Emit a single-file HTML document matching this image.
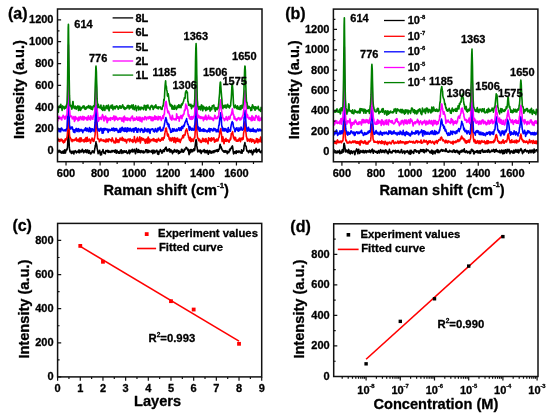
<!DOCTYPE html>
<html><head><meta charset="utf-8"><title>Figure</title>
<style>html,body{margin:0;padding:0;background:#fff;}svg{display:block;}text{stroke:#000;stroke-width:0.3px;stroke-linejoin:round;}</style></head>
<body><svg width="550" height="417" viewBox="0 0 550 417">
<rect width="550" height="417" fill="#fff"/>
<g style="font-family:'Liberation Sans',Arial,sans-serif;font-weight:bold" fill="#000">
<clipPath id="c57"><rect x="57.5" y="9" width="204.5" height="152.7"/></clipPath>
<g clip-path="url(#c57)">
<polyline points="57.5,152.7 57.8,152.7 58.0,152.3 58.3,151.5 58.5,151.5 58.8,151.1 59.0,150.3 59.3,150.2 59.5,150.8 59.8,151.9 60.1,152.5 60.3,152.5 60.6,152.0 60.8,151.9 61.1,152.7 61.3,152.7 61.6,152.1 61.8,153.1 62.1,152.0 62.4,151.4 62.6,152.5 62.9,153.0 63.1,152.2 63.4,151.0 63.6,151.9 63.9,153.3 64.1,152.0 64.4,150.2 64.7,149.9 64.9,150.5 65.2,151.9 65.4,153.0 65.7,151.7 65.9,151.2 66.2,150.6 66.4,149.4 66.7,150.1 67.0,149.9 67.2,148.8 67.5,147.3 67.7,143.7 68.0,137.5 68.2,130.9 68.4,130.2 68.5,130.6 68.7,133.8 69.0,140.7 69.3,146.9 69.5,148.7 69.8,150.5 70.0,151.9 70.3,151.0 70.5,151.3 70.8,151.4 71.0,151.4 71.3,153.5 71.6,153.3 71.8,152.0 72.1,151.4 72.3,152.2 72.6,152.8 72.8,152.7 73.1,151.6 73.3,151.2 73.6,153.2 73.9,153.9 74.1,152.4 74.4,152.1 74.6,152.2 74.9,150.9 75.1,150.6 75.4,151.8 75.6,151.7 75.9,151.1 76.2,152.1 76.4,152.9 76.7,152.2 76.9,152.2 77.2,151.6 77.4,151.9 77.7,151.6 78.0,151.0 78.2,151.6 78.5,152.4 78.7,152.0 79.0,149.8 79.2,150.3 79.5,152.8 79.7,152.7 80.0,151.4 80.3,151.8 80.5,151.3 80.8,150.6 81.0,151.1 81.3,151.7 81.5,151.9 81.8,151.5 82.0,150.5 82.3,149.3 82.6,149.9 82.8,151.0 83.1,150.6 83.3,151.5 83.6,152.8 83.8,151.7 84.1,150.7 84.3,151.4 84.6,150.8 84.9,151.4 85.1,151.9 85.4,151.9 85.6,149.7 85.9,150.0 86.1,150.5 86.4,152.0 86.6,152.6 86.9,151.0 87.2,151.2 87.4,150.1 87.7,150.5 87.9,150.2 88.2,152.2 88.4,153.1 88.7,151.3 88.9,151.3 89.2,151.1 89.5,150.7 89.7,152.3 90.0,153.3 90.2,153.5 90.5,153.9 90.7,154.0 91.0,153.5 91.2,152.9 91.5,152.5 91.8,152.7 92.0,151.7 92.3,150.8 92.5,151.2 92.8,151.3 93.0,152.0 93.3,151.2 93.5,151.0 93.8,152.2 94.1,152.9 94.3,151.6 94.6,150.1 94.8,148.3 95.1,147.5 95.3,145.4 95.6,145.7 95.8,143.4 96.0,141.8 96.1,142.7 96.4,143.9 96.6,145.1 96.9,146.0 97.1,148.5 97.4,149.3 97.6,150.6 97.9,152.0 98.1,153.6 98.4,152.0 98.7,151.3 98.9,152.7 99.2,152.8 99.4,152.0 99.7,150.2 99.9,152.2 100.2,153.5 100.4,155.0 100.7,154.0 101.0,152.4 101.2,153.7 101.5,154.8 101.7,152.8 102.0,151.7 102.2,151.3 102.5,151.5 102.7,151.3 103.0,149.5 103.3,151.3 103.5,151.9 103.8,153.0 104.0,153.2 104.3,153.3 104.5,152.2 104.8,152.4 105.0,153.5 105.3,153.8 105.6,151.6 105.8,150.6 106.1,150.8 106.3,151.4 106.6,150.9 106.8,150.5 107.1,150.5 107.3,150.3 107.6,151.4 107.9,152.1 108.1,152.4 108.4,150.5 108.6,151.7 108.9,151.4 109.1,151.3 109.4,152.3 109.6,151.8 109.9,151.1 110.2,151.6 110.4,152.1 110.7,152.3 110.9,152.5 111.2,151.9 111.4,151.2 111.7,150.8 111.9,150.5 112.2,151.4 112.5,151.8 112.7,150.9 113.0,150.7 113.2,150.5 113.5,151.0 113.7,150.9 114.0,150.8 114.2,151.1 114.5,152.3 114.8,151.9 115.0,150.9 115.3,149.9 115.5,151.0 115.8,151.2 116.0,152.3 116.3,153.2 116.6,150.9 116.8,150.2 117.1,150.6 117.3,152.4 117.6,151.7 117.8,151.8 118.1,152.9 118.3,151.8 118.6,151.9 118.9,151.8 119.1,153.3 119.4,153.2 119.6,153.0 119.9,153.2 120.1,151.6 120.4,150.3 120.6,151.0 120.9,150.5 121.2,149.8 121.4,150.7 121.7,152.4 121.9,153.4 122.2,152.0 122.4,151.9 122.7,151.9 122.9,150.9 123.2,151.3 123.5,152.8 123.7,151.9 124.0,151.5 124.2,150.9 124.5,151.0 124.7,150.9 125.0,152.0 125.2,152.3 125.5,152.3 125.8,152.0 126.0,151.5 126.3,150.8 126.5,152.1 126.8,152.2 127.0,153.1 127.3,153.5 127.5,153.1 127.8,153.1 128.1,152.1 128.3,152.4 128.6,152.2 128.8,150.8 129.1,150.1 129.3,152.2 129.6,153.7 129.8,152.6 130.1,151.3 130.4,150.5 130.6,151.5 130.9,152.1 131.1,150.6 131.4,150.3 131.6,151.3 131.9,151.2 132.1,150.3 132.4,149.2 132.7,151.4 132.9,152.1 133.2,151.5 133.4,151.0 133.7,151.4 133.9,150.8 134.2,149.9 134.4,149.4 134.7,151.1 135.0,152.0 135.2,152.5 135.5,153.7 135.7,153.1 136.0,151.7 136.2,150.5 136.5,148.6 136.7,149.3 137.0,149.9 137.3,150.1 137.5,151.8 137.8,152.5 138.0,152.4 138.3,151.2 138.5,149.6 138.8,151.3 139.0,152.2 139.3,151.4 139.6,150.5 139.8,150.5 140.1,150.9 140.3,152.6 140.6,152.7 140.8,151.9 141.1,151.0 141.3,150.6 141.6,152.0 141.9,151.3 142.1,151.3 142.4,151.2 142.6,152.3 142.9,152.6 143.1,150.7 143.4,151.4 143.6,153.0 143.9,151.7 144.2,152.2 144.4,151.9 144.7,151.9 144.9,152.4 145.2,151.0 145.4,151.1 145.7,149.9 145.9,150.3 146.2,150.7 146.5,150.4 146.7,149.8 147.0,152.1 147.2,152.7 147.5,152.0 147.7,150.3 148.0,150.1 148.2,151.0 148.5,151.7 148.8,152.5 149.0,150.6 149.3,151.2 149.5,151.5 149.8,151.5 150.0,151.0 150.3,151.4 150.5,151.4 150.8,151.5 151.1,152.1 151.3,152.1 151.6,151.1 151.8,150.7 152.1,150.2 152.3,150.2 152.6,152.7 152.8,153.7 153.1,152.0 153.4,150.4 153.6,151.7 153.9,152.7 154.1,150.4 154.4,150.9 154.6,153.0 154.9,152.7 155.2,151.8 155.4,152.0 155.7,151.6 155.9,151.0 156.2,150.8 156.4,150.2 156.7,150.7 156.9,150.3 157.2,151.9 157.5,153.4 157.7,154.1 158.0,152.9 158.2,151.3 158.5,151.6 158.7,154.4 159.0,152.9 159.2,152.1 159.5,151.2 159.8,151.6 160.0,150.7 160.3,149.6 160.5,150.8 160.8,151.2 161.0,150.4 161.3,150.9 161.5,152.0 161.8,153.1 162.1,152.8 162.3,153.0 162.6,151.5 162.8,150.7 163.1,150.5 163.3,149.8 163.6,151.5 163.8,151.0 164.1,151.0 164.4,151.5 164.6,149.9 164.9,148.6 165.1,148.4 165.4,149.0 165.6,148.9 165.7,149.2 165.9,147.5 166.1,147.2 166.4,148.8 166.7,149.9 166.9,151.0 167.2,150.6 167.4,150.6 167.7,150.8 167.9,151.1 168.2,149.2 168.4,149.5 168.7,149.4 169.0,150.0 169.2,150.4 169.5,148.9 169.7,149.9 170.0,152.2 170.2,151.8 170.5,151.8 170.7,151.5 171.0,149.9 171.3,151.4 171.5,150.9 171.8,152.1 172.0,150.8 172.3,152.2 172.5,153.6 172.8,151.7 173.0,151.1 173.3,151.8 173.6,151.2 173.8,152.3 174.1,150.7 174.3,149.9 174.6,149.6 174.8,150.9 175.1,150.9 175.3,151.4 175.6,150.7 175.9,150.6 176.1,150.9 176.4,152.2 176.6,151.2 176.9,150.4 177.1,149.9 177.4,151.3 177.6,151.4 177.9,150.6 178.2,151.4 178.4,153.7 178.7,152.1 178.9,150.7 179.2,152.0 179.4,153.3 179.7,152.3 179.9,151.8 180.2,152.2 180.5,151.9 180.7,152.3 181.0,151.7 181.2,150.6 181.5,149.2 181.7,149.6 182.0,149.4 182.2,150.4 182.5,152.0 182.8,151.7 183.0,150.6 183.3,152.2 183.5,152.2 183.8,150.3 184.0,151.2 184.3,151.0 184.5,149.1 184.8,149.9 185.1,149.2 185.3,149.1 185.6,148.9 185.8,148.5 186.1,147.3 186.3,148.4 186.6,148.7 186.8,147.8 187.1,148.9 187.4,149.3 187.6,149.2 187.9,150.5 188.1,150.7 188.4,149.4 188.6,151.3 188.9,154.0 189.1,154.6 189.4,151.8 189.7,150.6 189.9,150.0 190.2,152.2 190.4,152.8 190.7,151.2 190.9,149.6 191.2,149.5 191.5,151.0 191.7,151.8 192.0,150.9 192.2,149.8 192.5,151.0 192.7,151.6 193.0,150.9 193.2,150.8 193.5,150.3 193.8,148.9 194.0,149.6 194.3,150.5 194.5,150.6 194.8,149.5 195.0,147.1 195.3,144.8 195.5,143.2 195.8,141.1 196.1,139.6 196.3,141.0 196.6,142.3 196.8,145.9 197.1,147.5 197.3,148.6 197.6,151.1 197.8,151.9 198.1,151.2 198.4,150.6 198.6,150.8 198.9,150.7 199.1,150.2 199.4,151.6 199.6,151.9 199.9,150.9 200.1,150.7 200.4,150.0 200.7,150.3 200.9,152.7 201.2,153.5 201.4,151.5 201.7,151.1 201.9,151.4 202.2,151.9 202.4,151.0 202.7,151.2 203.0,150.6 203.2,150.3 203.5,151.0 203.7,151.6 204.0,151.2 204.2,149.5 204.5,151.6 204.7,151.6 205.0,152.8 205.3,152.2 205.5,150.5 205.8,151.3 206.0,150.7 206.3,151.1 206.5,151.1 206.8,152.8 207.0,152.5 207.3,150.3 207.6,151.0 207.8,152.4 208.1,153.1 208.3,154.3 208.6,153.0 208.8,153.1 209.1,152.3 209.3,150.5 209.6,151.7 209.9,152.5 210.1,152.5 210.4,151.0 210.6,151.0 210.9,152.6 211.1,153.3 211.4,152.1 211.6,152.0 211.9,152.9 212.2,151.3 212.4,151.9 212.7,151.9 212.9,152.4 213.2,152.1 213.4,150.8 213.7,151.5 213.9,152.7 214.2,151.3 214.5,150.6 214.7,151.0 215.0,150.8 215.2,151.7 215.5,150.7 215.7,150.9 216.0,150.8 216.2,149.8 216.5,150.4 216.8,151.3 217.0,151.2 217.3,151.7 217.5,150.6 217.8,149.5 218.0,149.8 218.3,151.3 218.5,150.9 218.8,149.5 219.1,149.1 219.3,149.3 219.6,147.7 219.8,145.9 220.1,144.3 220.3,144.8 220.4,145.5 220.6,147.1 220.8,147.6 221.1,146.7 221.4,147.9 221.6,149.2 221.9,148.9 222.1,149.7 222.4,150.5 222.6,150.5 222.9,151.1 223.1,150.6 223.4,150.9 223.7,151.7 223.9,152.1 224.2,151.9 224.4,150.8 224.7,151.5 224.9,152.2 225.2,150.9 225.4,150.7 225.7,151.2 226.0,151.3 226.2,151.9 226.5,151.8 226.7,151.1 227.0,152.7 227.2,153.6 227.5,152.9 227.7,151.4 228.0,152.2 228.3,152.2 228.5,152.5 228.8,152.6 229.0,151.9 229.3,150.9 229.5,149.6 229.8,150.9 230.1,150.4 230.3,148.6 230.6,148.5 230.8,148.9 231.1,148.5 231.3,148.2 231.6,147.0 231.8,146.8 232.1,146.7 232.2,146.2 232.4,145.9 232.6,146.9 232.9,148.8 233.1,150.8 233.4,152.9 233.6,153.9 233.9,151.8 234.1,152.7 234.4,152.2 234.7,151.9 234.9,152.9 235.2,152.2 235.4,151.3 235.7,151.3 235.9,151.8 236.2,153.5 236.4,151.4 236.7,150.8 237.0,152.2 237.2,151.2 237.5,151.6 237.7,151.6 238.0,151.4 238.2,152.4 238.5,151.3 238.7,151.6 239.0,150.9 239.3,151.2 239.5,151.4 239.8,152.1 240.0,152.1 240.3,152.7 240.5,152.8 240.8,152.9 241.0,152.2 241.3,151.6 241.6,149.7 241.8,152.1 242.1,153.3 242.3,151.0 242.6,151.0 242.8,150.6 243.1,150.7 243.3,151.1 243.6,150.6 243.9,149.0 244.1,145.7 244.4,144.7 244.6,144.7 244.9,142.6 245.0,143.1 245.1,145.0 245.4,145.6 245.6,145.7 245.9,146.3 246.2,146.7 246.4,148.8 246.7,149.7 246.9,151.0 247.2,151.3 247.4,151.3 247.7,151.3 247.9,151.1 248.2,151.7 248.5,152.7 248.7,151.6 249.0,152.0 249.2,150.8 249.5,150.4 249.7,150.8 250.0,151.7 250.2,151.2 250.5,150.9 250.8,152.2 251.0,152.5 251.3,150.4 251.5,151.3 251.8,152.3 252.0,153.0 252.3,153.8 252.5,154.8 252.8,153.7 253.1,153.1 253.3,152.0 253.6,150.0 253.8,151.1 254.1,151.9 254.3,151.8 254.6,151.8 254.8,150.1 255.1,150.1 255.4,151.5 255.6,150.5 255.9,149.6 256.1,148.3 256.4,149.9 256.6,152.5 256.9,152.0 257.1,150.6 257.4,150.2 257.7,150.1 257.9,151.1 258.2,150.8 258.4,149.8 258.7,150.4 258.9,150.5 259.2,149.2 259.4,150.7 259.7,151.6 260.0,152.1 260.2,152.0 260.5,152.5 260.7,151.2 261.0,152.7 261.2,151.6 261.5,151.8 261.7,150.9 262.0,149.9" fill="none" stroke="#000000" stroke-width="1.6" stroke-linejoin="round"/>
<polyline points="57.5,139.7 57.8,138.3 58.0,138.6 58.3,140.5 58.5,141.0 58.8,140.8 59.0,139.8 59.3,139.8 59.5,140.1 59.8,141.5 60.1,139.2 60.3,139.5 60.6,139.6 60.8,140.3 61.1,140.6 61.3,139.5 61.6,139.2 61.8,140.2 62.1,140.2 62.4,139.8 62.6,141.5 62.9,142.1 63.1,140.6 63.4,141.5 63.6,142.9 63.9,142.0 64.1,141.4 64.4,142.2 64.7,142.2 64.9,140.2 65.2,139.0 65.4,140.1 65.7,140.6 65.9,139.3 66.2,138.7 66.4,139.2 66.7,138.1 67.0,136.9 67.2,136.3 67.5,132.3 67.7,122.4 68.0,109.7 68.2,99.0 68.4,97.5 68.5,99.5 68.7,108.3 69.0,121.0 69.3,129.2 69.5,134.6 69.8,137.8 70.0,137.2 70.3,137.6 70.5,138.3 70.8,138.6 71.0,139.1 71.3,140.8 71.6,139.5 71.8,139.7 72.1,141.7 72.3,140.4 72.6,140.0 72.8,139.5 73.1,140.4 73.3,140.2 73.6,140.1 73.9,140.8 74.1,139.9 74.4,139.9 74.6,139.9 74.9,140.2 75.1,139.0 75.4,139.2 75.6,140.0 75.9,139.1 76.2,137.9 76.4,138.3 76.7,141.0 76.9,139.7 77.2,139.4 77.4,140.6 77.7,141.0 78.0,139.7 78.2,141.0 78.5,139.6 78.7,139.2 79.0,141.7 79.2,141.7 79.5,141.8 79.7,139.9 80.0,137.7 80.3,138.1 80.5,141.8 80.8,141.3 81.0,139.1 81.3,138.1 81.5,139.5 81.8,140.9 82.0,140.2 82.3,140.3 82.6,140.8 82.8,141.0 83.1,140.0 83.3,139.8 83.6,140.4 83.8,141.1 84.1,142.0 84.3,140.9 84.6,139.2 84.9,140.6 85.1,141.5 85.4,139.1 85.6,138.4 85.9,137.7 86.1,139.6 86.4,141.3 86.6,141.6 86.9,138.3 87.2,137.2 87.4,140.5 87.7,141.1 87.9,140.1 88.2,141.1 88.4,141.0 88.7,140.7 88.9,139.7 89.2,138.9 89.5,139.4 89.7,139.3 90.0,140.2 90.2,140.8 90.5,143.1 90.7,142.4 91.0,140.1 91.2,140.3 91.5,139.5 91.8,138.8 92.0,138.1 92.3,138.3 92.5,138.6 92.8,140.0 93.0,141.1 93.3,141.2 93.5,141.1 93.8,141.4 94.1,140.5 94.3,139.1 94.6,137.6 94.8,136.7 95.1,134.7 95.3,128.5 95.6,122.3 95.8,117.8 96.0,118.3 96.1,119.5 96.4,121.8 96.6,123.9 96.9,128.6 97.1,131.5 97.4,134.4 97.6,138.5 97.9,139.0 98.1,138.7 98.4,138.8 98.7,139.0 98.9,139.5 99.2,140.3 99.4,141.8 99.7,141.1 99.9,141.0 100.2,140.5 100.4,140.4 100.7,139.3 101.0,138.9 101.2,139.4 101.5,139.7 101.7,140.2 102.0,140.8 102.2,140.8 102.5,140.7 102.7,140.0 103.0,139.9 103.3,140.1 103.5,141.2 103.8,140.0 104.0,141.1 104.3,141.5 104.5,141.0 104.8,140.9 105.0,140.4 105.3,141.2 105.6,142.0 105.8,141.2 106.1,139.1 106.3,140.2 106.6,141.6 106.8,141.3 107.1,141.4 107.3,139.4 107.6,141.2 107.9,140.1 108.1,140.0 108.4,141.6 108.6,140.1 108.9,138.9 109.1,139.3 109.4,139.5 109.6,139.1 109.9,139.6 110.2,139.9 110.4,140.1 110.7,140.0 110.9,140.8 111.2,139.9 111.4,141.0 111.7,141.6 111.9,139.7 112.2,137.9 112.5,138.8 112.7,140.3 113.0,139.9 113.2,140.6 113.5,140.6 113.7,141.1 114.0,142.8 114.2,141.4 114.5,141.7 114.8,142.1 115.0,142.8 115.3,143.0 115.5,141.6 115.8,139.1 116.0,138.1 116.3,139.3 116.6,139.2 116.8,140.9 117.1,142.5 117.3,140.7 117.6,139.9 117.8,140.5 118.1,139.9 118.3,139.9 118.6,141.6 118.9,142.4 119.1,141.2 119.4,140.8 119.6,140.4 119.9,138.7 120.1,138.1 120.4,139.9 120.6,139.3 120.9,138.7 121.2,138.7 121.4,139.0 121.7,140.1 121.9,138.8 122.2,137.4 122.4,138.9 122.7,140.5 122.9,139.4 123.2,138.5 123.5,139.6 123.7,140.2 124.0,139.2 124.2,141.0 124.5,140.2 124.7,140.6 125.0,141.2 125.2,139.2 125.5,139.9 125.8,141.3 126.0,140.2 126.3,141.3 126.5,142.9 126.8,141.7 127.0,140.0 127.3,139.4 127.5,139.9 127.8,140.0 128.1,139.8 128.3,139.9 128.6,139.0 128.8,139.6 129.1,139.7 129.3,140.0 129.6,141.6 129.8,140.9 130.1,138.7 130.4,139.5 130.6,140.4 130.9,140.2 131.1,140.6 131.4,140.4 131.6,140.9 131.9,140.8 132.1,141.5 132.4,139.6 132.7,141.0 132.9,142.4 133.2,141.3 133.4,140.8 133.7,140.7 133.9,141.4 134.2,138.9 134.4,136.5 134.7,140.3 135.0,140.5 135.2,140.5 135.5,140.9 135.7,142.7 136.0,142.1 136.2,140.2 136.5,139.6 136.7,138.7 137.0,140.4 137.3,139.3 137.5,137.2 137.8,140.4 138.0,141.6 138.3,140.7 138.5,140.1 138.8,139.3 139.0,140.1 139.3,141.0 139.6,139.4 139.8,136.7 140.1,138.9 140.3,143.0 140.6,141.9 140.8,141.1 141.1,140.0 141.3,139.5 141.6,137.8 141.9,138.2 142.1,138.9 142.4,139.8 142.6,140.1 142.9,139.4 143.1,138.5 143.4,139.3 143.6,140.0 143.9,138.9 144.2,139.6 144.4,140.6 144.7,141.4 144.9,141.5 145.2,142.3 145.4,143.3 145.7,140.0 145.9,139.3 146.2,139.9 146.5,139.0 146.7,139.3 147.0,140.6 147.2,143.1 147.5,141.3 147.7,139.2 148.0,137.6 148.2,137.0 148.5,138.4 148.8,141.9 149.0,143.0 149.3,140.5 149.5,139.7 149.8,139.2 150.0,140.0 150.3,140.7 150.5,141.7 150.8,140.5 151.1,140.5 151.3,139.9 151.6,139.7 151.8,140.1 152.1,140.0 152.3,139.9 152.6,139.2 152.8,139.6 153.1,140.9 153.4,140.5 153.6,138.6 153.9,139.4 154.1,139.0 154.4,139.7 154.6,141.0 154.9,141.3 155.2,140.3 155.4,139.7 155.7,139.9 155.9,141.7 156.2,141.4 156.4,140.0 156.7,139.4 156.9,142.2 157.2,140.8 157.5,140.5 157.7,140.1 158.0,140.5 158.2,139.4 158.5,138.2 158.7,139.0 159.0,139.4 159.2,139.9 159.5,140.7 159.8,139.9 160.0,140.5 160.3,141.2 160.5,140.6 160.8,140.1 161.0,139.3 161.3,140.0 161.5,140.1 161.8,138.2 162.1,137.8 162.3,137.9 162.6,138.7 162.8,139.7 163.1,140.1 163.3,139.2 163.6,137.6 163.8,137.9 164.1,138.4 164.4,136.5 164.6,135.4 164.9,132.9 165.1,132.2 165.4,131.0 165.6,128.8 165.7,128.4 165.9,130.0 166.1,128.1 166.4,128.1 166.7,131.7 166.9,131.5 167.2,134.0 167.4,135.3 167.7,135.7 167.9,136.2 168.2,134.1 168.4,134.8 168.7,136.8 169.0,137.8 169.2,139.3 169.5,138.6 169.7,138.2 170.0,140.8 170.2,140.4 170.5,139.2 170.7,138.0 171.0,138.1 171.3,140.3 171.5,140.9 171.8,140.0 172.0,140.4 172.3,140.2 172.5,138.3 172.8,137.7 173.0,139.3 173.3,140.0 173.6,140.3 173.8,142.1 174.1,141.3 174.3,140.5 174.6,137.6 174.8,138.4 175.1,139.8 175.3,141.3 175.6,142.8 175.9,139.7 176.1,138.3 176.4,140.1 176.6,139.4 176.9,139.7 177.1,141.3 177.4,139.1 177.6,138.1 177.9,139.4 178.2,139.8 178.4,139.8 178.7,141.5 178.9,140.2 179.2,139.3 179.4,140.7 179.7,139.5 179.9,140.8 180.2,142.5 180.5,141.1 180.7,140.7 181.0,139.9 181.2,139.9 181.5,138.3 181.7,138.7 182.0,138.0 182.2,138.1 182.5,137.2 182.8,135.5 183.0,136.1 183.3,137.4 183.5,137.6 183.8,135.1 184.0,134.8 184.3,135.4 184.5,135.0 184.8,135.4 185.1,134.9 185.3,133.2 185.6,130.9 185.8,130.2 186.1,130.4 186.3,129.6 186.6,128.7 186.8,129.5 187.1,130.1 187.4,132.2 187.6,133.3 187.9,133.8 188.1,134.9 188.4,135.8 188.6,137.7 188.9,136.9 189.1,138.7 189.4,139.8 189.7,140.5 189.9,138.7 190.2,137.4 190.4,137.6 190.7,139.0 190.9,141.6 191.2,141.5 191.5,141.0 191.7,140.7 192.0,138.9 192.2,139.3 192.5,139.6 192.7,139.7 193.0,141.1 193.2,141.5 193.5,140.9 193.8,139.2 194.0,138.6 194.3,137.8 194.5,137.1 194.8,137.7 195.0,134.6 195.3,129.9 195.5,126.1 195.8,120.9 196.1,118.1 196.3,118.1 196.6,122.8 196.8,129.0 197.1,133.3 197.3,135.4 197.6,138.0 197.8,138.3 198.1,138.0 198.4,139.8 198.6,140.6 198.9,139.9 199.1,139.1 199.4,139.1 199.6,139.4 199.9,140.0 200.1,142.0 200.4,141.6 200.7,140.6 200.9,141.6 201.2,142.5 201.4,142.4 201.7,141.7 201.9,141.1 202.2,141.3 202.4,139.7 202.7,138.2 203.0,139.2 203.2,138.7 203.5,139.8 203.7,141.5 204.0,141.3 204.2,141.2 204.5,140.2 204.7,140.8 205.0,139.0 205.3,139.8 205.5,142.0 205.8,139.5 206.0,138.5 206.3,140.2 206.5,140.1 206.8,141.8 207.0,141.3 207.3,141.9 207.6,141.0 207.8,143.1 208.1,143.8 208.3,139.9 208.6,137.7 208.8,139.8 209.1,139.5 209.3,139.9 209.6,140.3 209.9,139.1 210.1,138.6 210.4,140.8 210.6,140.0 210.9,140.2 211.1,141.1 211.4,138.2 211.6,137.8 211.9,139.9 212.2,138.6 212.4,139.6 212.7,139.8 212.9,138.5 213.2,139.3 213.4,139.2 213.7,137.9 213.9,137.8 214.2,139.2 214.5,142.1 214.7,142.1 215.0,139.9 215.2,140.8 215.5,140.8 215.7,141.4 216.0,141.3 216.2,141.0 216.5,139.1 216.8,140.7 217.0,140.7 217.3,139.8 217.5,139.2 217.8,141.0 218.0,140.4 218.3,139.5 218.5,138.2 218.8,137.6 219.1,137.3 219.3,135.6 219.6,134.0 219.8,131.8 220.1,130.8 220.3,130.7 220.4,129.8 220.6,128.8 220.8,128.6 221.1,132.3 221.4,133.8 221.6,135.1 221.9,139.9 222.1,141.7 222.4,141.2 222.6,139.2 222.9,136.9 223.1,138.1 223.4,138.5 223.7,140.8 223.9,143.8 224.2,143.3 224.4,139.8 224.7,140.0 224.9,141.1 225.2,140.0 225.4,141.1 225.7,138.9 226.0,138.4 226.2,140.9 226.5,141.4 226.7,140.1 227.0,140.8 227.2,140.1 227.5,140.9 227.7,139.7 228.0,139.9 228.3,140.9 228.5,141.2 228.8,140.9 229.0,142.3 229.3,141.2 229.5,140.3 229.8,139.8 230.1,140.3 230.3,138.1 230.6,139.1 230.8,139.1 231.1,135.4 231.3,133.5 231.6,134.3 231.8,134.1 232.1,132.9 232.2,132.5 232.4,132.5 232.6,131.6 232.9,133.7 233.1,135.8 233.4,137.1 233.6,138.2 233.9,137.9 234.1,138.4 234.4,139.9 234.7,139.1 234.9,137.1 235.2,138.7 235.4,139.4 235.7,137.9 235.9,139.8 236.2,141.1 236.4,140.1 236.7,141.1 237.0,141.0 237.2,140.0 237.5,140.5 237.7,141.3 238.0,141.3 238.2,140.6 238.5,139.3 238.7,140.8 239.0,140.3 239.3,138.3 239.5,139.4 239.8,138.1 240.0,138.1 240.3,140.3 240.5,141.6 240.8,139.8 241.0,138.7 241.3,138.6 241.6,139.0 241.8,138.0 242.1,138.2 242.3,139.8 242.6,138.2 242.8,138.6 243.1,139.2 243.3,137.2 243.6,133.1 243.9,131.8 244.1,131.3 244.4,126.8 244.6,123.3 244.9,121.9 245.0,121.6 245.1,123.3 245.4,124.0 245.6,128.2 245.9,131.8 246.2,135.0 246.4,137.0 246.7,137.0 246.9,138.3 247.2,140.3 247.4,141.1 247.7,140.3 247.9,138.9 248.2,139.3 248.5,139.8 248.7,140.4 249.0,140.4 249.2,140.6 249.5,141.5 249.7,139.3 250.0,140.7 250.2,140.6 250.5,138.8 250.8,139.4 251.0,140.3 251.3,141.4 251.5,142.1 251.8,140.2 252.0,139.1 252.3,140.3 252.5,139.5 252.8,141.3 253.1,141.3 253.3,140.0 253.6,139.8 253.8,139.8 254.1,141.2 254.3,142.4 254.6,143.2 254.8,142.8 255.1,142.5 255.4,142.2 255.6,140.7 255.9,141.7 256.1,141.9 256.4,138.5 256.6,140.8 256.9,141.6 257.1,138.9 257.4,138.9 257.7,141.7 257.9,142.8 258.2,141.6 258.4,139.5 258.7,140.5 258.9,141.3 259.2,140.2 259.4,139.5 259.7,141.6 260.0,141.8 260.2,141.2 260.5,137.7 260.7,137.0 261.0,138.6 261.2,139.8 261.5,140.4 261.7,142.3 262.0,140.8" fill="none" stroke="#ff0000" stroke-width="1.6" stroke-linejoin="round"/>
<polyline points="57.5,129.7 57.8,128.7 58.0,128.6 58.3,128.4 58.5,128.5 58.8,130.9 59.0,131.6 59.3,131.6 59.5,130.2 59.8,129.0 60.1,129.5 60.3,130.2 60.6,131.8 60.8,130.8 61.1,130.3 61.3,128.1 61.6,128.1 61.8,128.7 62.1,129.5 62.4,129.1 62.6,129.2 62.9,130.2 63.1,130.6 63.4,130.4 63.6,130.8 63.9,130.8 64.1,130.6 64.4,130.4 64.7,129.8 64.9,130.8 65.2,129.6 65.4,130.2 65.7,130.8 65.9,131.0 66.2,129.9 66.4,129.3 66.7,128.7 67.0,128.2 67.2,124.8 67.5,117.9 67.7,109.3 68.0,96.7 68.2,83.8 68.4,81.6 68.5,81.6 68.7,91.3 69.0,106.7 69.3,119.5 69.5,124.9 69.8,126.8 70.0,128.4 70.3,128.2 70.5,128.2 70.8,129.1 71.0,127.8 71.3,127.1 71.6,127.5 71.8,127.7 72.1,127.4 72.3,127.0 72.6,128.8 72.8,129.6 73.1,129.6 73.3,131.2 73.6,132.1 73.9,131.2 74.1,129.7 74.4,129.9 74.6,132.0 74.9,132.6 75.1,131.0 75.4,130.3 75.6,129.9 75.9,128.9 76.2,128.4 76.4,129.1 76.7,129.7 76.9,131.3 77.2,131.5 77.4,129.9 77.7,129.0 78.0,128.8 78.2,128.9 78.5,128.7 78.7,129.5 79.0,131.8 79.2,131.2 79.5,129.6 79.7,129.8 80.0,131.0 80.3,129.5 80.5,130.2 80.8,130.3 81.0,129.6 81.3,129.6 81.5,130.9 81.8,129.5 82.0,129.9 82.3,130.9 82.6,131.3 82.8,132.6 83.1,131.4 83.3,130.3 83.6,130.8 83.8,130.7 84.1,130.3 84.3,129.7 84.6,129.0 84.9,129.8 85.1,130.1 85.4,128.8 85.6,127.8 85.9,129.5 86.1,130.2 86.4,131.0 86.6,128.9 86.9,128.4 87.2,128.4 87.4,130.0 87.7,130.8 87.9,129.2 88.2,129.2 88.4,131.2 88.7,131.7 88.9,130.1 89.2,129.1 89.5,127.5 89.7,129.9 90.0,130.8 90.2,130.8 90.5,132.0 90.7,130.9 91.0,128.6 91.2,129.7 91.5,131.0 91.8,131.2 92.0,129.5 92.3,128.8 92.5,129.4 92.8,130.0 93.0,129.4 93.3,129.3 93.5,129.9 93.8,129.7 94.1,131.5 94.3,130.7 94.6,128.0 94.8,125.6 95.1,122.4 95.3,116.0 95.6,109.6 95.8,106.0 96.0,105.9 96.1,105.2 96.4,109.0 96.6,115.6 96.9,119.9 97.1,123.0 97.4,127.3 97.6,128.6 97.9,129.6 98.1,130.7 98.4,130.8 98.7,129.7 98.9,129.2 99.2,129.8 99.4,131.3 99.7,130.5 99.9,129.3 100.2,128.5 100.4,128.6 100.7,128.4 101.0,128.2 101.2,129.0 101.5,130.5 101.7,130.4 102.0,131.5 102.2,133.3 102.5,131.8 102.7,128.8 103.0,131.2 103.3,132.9 103.5,130.9 103.8,128.6 104.0,129.4 104.3,129.7 104.5,130.2 104.8,129.8 105.0,128.4 105.3,128.8 105.6,129.5 105.8,128.8 106.1,128.7 106.3,129.8 106.6,129.7 106.8,129.9 107.1,130.2 107.3,129.1 107.6,130.0 107.9,131.3 108.1,132.4 108.4,131.4 108.6,129.3 108.9,130.6 109.1,130.1 109.4,130.1 109.6,129.4 109.9,129.5 110.2,130.7 110.4,130.6 110.7,130.0 110.9,129.9 111.2,130.1 111.4,130.2 111.7,129.0 111.9,128.3 112.2,129.3 112.5,130.5 112.7,129.9 113.0,129.7 113.2,128.9 113.5,128.0 113.7,129.6 114.0,130.4 114.2,131.1 114.5,130.9 114.8,130.2 115.0,128.5 115.3,129.4 115.5,129.9 115.8,128.7 116.0,130.5 116.3,129.3 116.6,128.5 116.8,129.2 117.1,130.2 117.3,130.4 117.6,130.2 117.8,130.2 118.1,132.4 118.3,131.3 118.6,130.3 118.9,131.2 119.1,132.2 119.4,131.2 119.6,130.7 119.9,129.0 120.1,128.3 120.4,130.2 120.6,132.1 120.9,131.3 121.2,130.9 121.4,129.1 121.7,127.9 121.9,128.4 122.2,127.3 122.4,127.5 122.7,129.1 122.9,130.6 123.2,130.6 123.5,131.0 123.7,129.2 124.0,128.9 124.2,128.3 124.5,129.7 124.7,131.5 125.0,129.5 125.2,128.0 125.5,128.1 125.8,130.6 126.0,131.1 126.3,130.4 126.5,131.4 126.8,132.0 127.0,130.5 127.3,127.7 127.5,129.9 127.8,131.3 128.1,130.7 128.3,129.6 128.6,128.2 128.8,128.2 129.1,128.7 129.3,129.5 129.6,129.9 129.8,131.0 130.1,131.0 130.4,128.4 130.6,129.3 130.9,129.1 131.1,129.9 131.4,130.1 131.6,130.6 131.9,131.4 132.1,130.3 132.4,129.2 132.7,128.7 132.9,128.7 133.2,128.6 133.4,129.2 133.7,130.5 133.9,132.1 134.2,130.6 134.4,128.4 134.7,129.0 135.0,129.1 135.2,130.1 135.5,130.0 135.7,127.9 136.0,128.3 136.2,128.0 136.5,128.9 136.7,130.8 137.0,132.3 137.3,131.1 137.5,132.3 137.8,132.3 138.0,129.1 138.3,128.5 138.5,129.0 138.8,129.6 139.0,129.8 139.3,129.4 139.6,129.6 139.8,129.5 140.1,130.0 140.3,131.9 140.6,130.1 140.8,130.0 141.1,128.8 141.3,128.7 141.6,130.1 141.9,129.1 142.1,129.1 142.4,130.6 142.6,130.7 142.9,130.8 143.1,132.4 143.4,131.2 143.6,130.1 143.9,131.0 144.2,132.0 144.4,130.5 144.7,128.1 144.9,128.2 145.2,130.0 145.4,130.9 145.7,130.3 145.9,130.3 146.2,130.9 146.5,130.4 146.7,129.2 147.0,129.7 147.2,131.9 147.5,129.8 147.7,129.2 148.0,128.8 148.2,129.5 148.5,129.0 148.8,129.2 149.0,132.0 149.3,129.3 149.5,129.9 149.8,132.8 150.0,133.3 150.3,131.0 150.5,130.6 150.8,129.3 151.1,129.5 151.3,129.7 151.6,129.0 151.8,129.2 152.1,128.9 152.3,128.8 152.6,129.1 152.8,128.8 153.1,129.4 153.4,131.3 153.6,130.8 153.9,130.4 154.1,131.0 154.4,132.0 154.6,131.0 154.9,129.8 155.2,129.2 155.4,128.6 155.7,130.3 155.9,130.9 156.2,130.9 156.4,130.7 156.7,131.4 156.9,132.0 157.2,129.9 157.5,128.4 157.7,128.8 158.0,130.8 158.2,129.9 158.5,128.1 158.7,129.3 159.0,129.7 159.2,129.6 159.5,128.6 159.8,127.7 160.0,127.0 160.3,128.4 160.5,129.7 160.8,131.1 161.0,130.9 161.3,130.8 161.5,130.8 161.8,130.8 162.1,129.3 162.3,130.2 162.6,130.1 162.8,130.5 163.1,128.7 163.3,127.3 163.6,128.4 163.8,127.4 164.1,126.2 164.4,124.6 164.6,123.1 164.9,122.2 165.1,120.5 165.4,119.5 165.6,119.3 165.7,118.0 165.9,117.5 166.1,118.8 166.4,119.1 166.7,120.6 166.9,122.8 167.2,122.8 167.4,124.3 167.7,123.5 167.9,123.1 168.2,125.4 168.4,126.7 168.7,126.2 169.0,124.4 169.2,127.0 169.5,128.8 169.7,127.9 170.0,128.6 170.2,129.5 170.5,131.2 170.7,132.4 171.0,131.5 171.3,131.6 171.5,132.2 171.8,131.8 172.0,130.9 172.3,129.1 172.5,128.7 172.8,129.3 173.0,130.7 173.3,131.3 173.6,129.9 173.8,129.0 174.1,128.7 174.3,129.6 174.6,130.0 174.8,130.0 175.1,131.1 175.3,130.9 175.6,130.0 175.9,131.0 176.1,130.2 176.4,129.1 176.6,129.3 176.9,129.8 177.1,131.0 177.4,130.5 177.6,130.0 177.9,129.2 178.2,129.2 178.4,129.0 178.7,127.7 178.9,128.7 179.2,130.1 179.4,130.5 179.7,130.2 179.9,129.7 180.2,127.9 180.5,128.5 180.7,129.8 181.0,130.4 181.2,130.4 181.5,128.8 181.7,126.7 182.0,126.5 182.2,127.1 182.5,127.6 182.8,128.5 183.0,126.6 183.3,126.1 183.5,125.2 183.8,126.2 184.0,126.5 184.3,125.7 184.5,125.1 184.8,122.9 185.1,122.5 185.3,121.9 185.6,121.3 185.8,121.1 186.1,120.1 186.3,120.2 186.6,118.6 186.8,120.2 187.1,121.5 187.4,123.0 187.6,124.2 187.9,124.5 188.1,124.1 188.4,125.4 188.6,126.0 188.9,127.6 189.1,129.2 189.4,130.3 189.7,127.9 189.9,126.6 190.2,128.2 190.4,127.5 190.7,128.2 190.9,129.5 191.2,129.2 191.5,130.2 191.7,129.6 192.0,128.2 192.2,129.2 192.5,130.0 192.7,128.6 193.0,130.0 193.2,129.9 193.5,129.6 193.8,129.5 194.0,130.2 194.3,129.4 194.5,125.8 194.8,125.1 195.0,122.5 195.3,117.3 195.5,108.0 195.8,99.9 196.1,98.8 196.3,97.8 196.6,105.0 196.8,113.6 197.1,119.7 197.3,123.0 197.6,126.3 197.8,128.2 198.1,129.6 198.4,128.6 198.6,127.1 198.9,128.5 199.1,129.8 199.4,131.3 199.6,128.8 199.9,128.2 200.1,127.9 200.4,129.2 200.7,130.9 200.9,131.2 201.2,129.7 201.4,129.9 201.7,130.8 201.9,130.4 202.2,130.2 202.4,129.4 202.7,130.4 203.0,131.3 203.2,130.6 203.5,130.0 203.7,128.7 204.0,130.4 204.2,131.5 204.5,130.6 204.7,130.2 205.0,129.7 205.3,130.0 205.5,131.0 205.8,130.5 206.0,130.6 206.3,131.5 206.5,131.0 206.8,130.6 207.0,132.0 207.3,131.9 207.6,131.0 207.8,130.2 208.1,130.1 208.3,131.2 208.6,130.1 208.8,128.8 209.1,128.4 209.3,130.4 209.6,131.8 209.9,131.9 210.1,129.6 210.4,128.8 210.6,130.2 210.9,129.6 211.1,128.7 211.4,128.9 211.6,129.9 211.9,129.5 212.2,130.2 212.4,130.9 212.7,129.9 212.9,129.8 213.2,130.7 213.4,129.1 213.7,128.2 213.9,130.6 214.2,129.4 214.5,128.7 214.7,129.4 215.0,129.6 215.2,129.6 215.5,128.9 215.7,130.4 216.0,131.0 216.2,131.8 216.5,130.0 216.8,129.9 217.0,131.7 217.3,131.0 217.5,129.6 217.8,130.3 218.0,131.6 218.3,131.8 218.5,128.0 218.8,125.2 219.1,125.3 219.3,123.2 219.6,120.7 219.8,118.7 220.1,116.7 220.3,115.8 220.4,115.5 220.6,112.7 220.8,113.6 221.1,117.7 221.4,120.4 221.6,124.7 221.9,126.3 222.1,126.9 222.4,129.7 222.6,130.7 222.9,130.2 223.1,130.9 223.4,128.3 223.7,128.3 223.9,129.0 224.2,129.4 224.4,130.9 224.7,130.9 224.9,129.0 225.2,128.6 225.4,129.4 225.7,130.1 226.0,130.0 226.2,129.1 226.5,131.3 226.7,131.5 227.0,131.3 227.2,132.1 227.5,132.2 227.7,131.1 228.0,128.6 228.3,127.5 228.5,129.4 228.8,131.6 229.0,131.1 229.3,130.2 229.5,130.2 229.8,129.9 230.1,129.7 230.3,131.2 230.6,129.9 230.8,127.6 231.1,125.8 231.3,124.7 231.6,123.6 231.8,122.7 232.1,122.2 232.2,121.5 232.4,122.1 232.6,123.1 232.9,122.7 233.1,124.2 233.4,126.8 233.6,127.2 233.9,127.3 234.1,128.5 234.4,129.1 234.7,129.6 234.9,131.7 235.2,131.6 235.4,129.6 235.7,128.8 235.9,128.4 236.2,129.5 236.4,128.5 236.7,127.7 237.0,127.7 237.2,130.1 237.5,130.4 237.7,129.6 238.0,129.8 238.2,131.0 238.5,131.2 238.7,130.6 239.0,127.9 239.3,129.1 239.5,130.0 239.8,130.4 240.0,129.7 240.3,129.0 240.5,129.8 240.8,129.1 241.0,127.1 241.3,127.9 241.6,129.2 241.8,129.9 242.1,129.9 242.3,130.1 242.6,129.4 242.8,129.7 243.1,129.4 243.3,128.2 243.6,126.6 243.9,122.3 244.1,117.5 244.4,117.0 244.6,115.4 244.9,111.9 245.0,112.0 245.1,110.4 245.4,113.3 245.6,117.0 245.9,122.2 246.2,126.0 246.4,126.7 246.7,127.4 246.9,129.8 247.2,131.3 247.4,130.8 247.7,130.4 247.9,130.2 248.2,129.1 248.5,127.3 248.7,129.2 249.0,130.8 249.2,131.0 249.5,130.1 249.7,130.9 250.0,129.1 250.2,130.1 250.5,131.5 250.8,130.4 251.0,129.7 251.3,129.4 251.5,131.1 251.8,130.4 252.0,129.7 252.3,129.6 252.5,131.2 252.8,130.6 253.1,128.2 253.3,129.4 253.6,131.4 253.8,130.6 254.1,131.1 254.3,131.6 254.6,131.3 254.8,129.7 255.1,130.3 255.4,130.1 255.6,130.5 255.9,132.0 256.1,131.2 256.4,130.2 256.6,131.4 256.9,130.5 257.1,130.0 257.4,129.3 257.7,128.9 257.9,129.1 258.2,129.7 258.4,130.1 258.7,131.0 258.9,130.7 259.2,129.6 259.4,130.1 259.7,129.0 260.0,129.0 260.2,130.5 260.5,130.1 260.7,130.7 261.0,130.4 261.2,130.7 261.5,130.0 261.7,130.2 262.0,131.2" fill="none" stroke="#0000ff" stroke-width="1.6" stroke-linejoin="round"/>
<polyline points="57.5,117.5 57.8,120.9 58.0,118.5 58.3,117.5 58.5,116.8 58.8,116.8 59.0,116.2 59.3,117.9 59.5,118.8 59.8,117.8 60.1,117.8 60.3,118.7 60.6,118.5 60.8,117.4 61.1,117.5 61.3,118.8 61.6,119.7 61.8,119.9 62.1,117.2 62.4,117.4 62.6,116.7 62.9,116.6 63.1,115.3 63.4,115.6 63.6,116.7 63.9,116.7 64.1,118.2 64.4,117.6 64.7,119.1 64.9,117.7 65.2,116.5 65.4,117.3 65.7,118.3 65.9,118.7 66.2,117.5 66.4,115.5 66.7,115.0 67.0,115.3 67.2,112.6 67.5,103.5 67.7,89.8 68.0,69.0 68.2,50.1 68.4,44.7 68.5,45.3 68.7,59.9 69.0,81.5 69.3,99.5 69.5,108.4 69.8,112.3 70.0,115.2 70.3,116.1 70.5,116.7 70.8,116.0 71.0,116.1 71.3,116.4 71.6,116.5 71.8,116.1 72.1,117.9 72.3,118.8 72.6,118.7 72.8,117.9 73.1,118.9 73.3,118.9 73.6,117.2 73.9,116.5 74.1,118.2 74.4,121.5 74.6,120.8 74.9,120.4 75.1,120.3 75.4,118.6 75.6,116.6 75.9,118.3 76.2,119.1 76.4,117.8 76.7,118.0 76.9,118.5 77.2,119.1 77.4,118.5 77.7,118.6 78.0,121.0 78.2,120.6 78.5,117.5 78.7,117.2 79.0,119.1 79.2,119.9 79.5,119.5 79.7,120.0 80.0,118.6 80.3,116.6 80.5,117.2 80.8,117.1 81.0,118.1 81.3,117.6 81.5,117.2 81.8,119.6 82.0,119.4 82.3,118.6 82.6,117.6 82.8,116.3 83.1,117.6 83.3,120.0 83.6,119.7 83.8,119.9 84.1,119.1 84.3,116.9 84.6,118.8 84.9,118.8 85.1,118.8 85.4,117.6 85.6,117.7 85.9,118.2 86.1,118.0 86.4,117.5 86.6,119.3 86.9,120.0 87.2,119.5 87.4,117.4 87.7,118.6 87.9,119.9 88.2,118.3 88.4,115.7 88.7,117.2 88.9,117.3 89.2,117.5 89.5,118.5 89.7,119.3 90.0,119.1 90.2,119.7 90.5,120.0 90.7,115.8 91.0,116.2 91.2,117.9 91.5,118.7 91.8,118.8 92.0,117.5 92.3,117.8 92.5,118.1 92.8,119.3 93.0,117.3 93.3,115.5 93.5,116.9 93.8,116.6 94.1,116.2 94.3,114.3 94.6,112.5 94.8,110.3 95.1,105.4 95.3,97.1 95.6,89.0 95.8,83.3 96.0,81.3 96.1,81.4 96.4,87.4 96.6,93.8 96.9,98.9 97.1,106.9 97.4,111.8 97.6,112.8 97.9,117.2 98.1,121.0 98.4,121.3 98.7,120.1 98.9,117.8 99.2,117.6 99.4,119.7 99.7,118.1 99.9,119.0 100.2,118.2 100.4,117.4 100.7,117.6 101.0,118.0 101.2,118.5 101.5,119.4 101.7,118.1 102.0,116.8 102.2,115.9 102.5,114.6 102.7,115.9 103.0,116.5 103.3,116.1 103.5,118.0 103.8,120.6 104.0,121.0 104.3,117.6 104.5,117.0 104.8,117.4 105.0,118.4 105.3,117.5 105.6,116.0 105.8,117.8 106.1,119.8 106.3,118.8 106.6,117.5 106.8,120.1 107.1,122.7 107.3,122.6 107.6,120.6 107.9,118.0 108.1,118.3 108.4,119.8 108.6,120.3 108.9,119.1 109.1,118.9 109.4,119.3 109.6,119.3 109.9,118.7 110.2,117.6 110.4,120.4 110.7,119.6 110.9,119.3 111.2,118.1 111.4,118.3 111.7,117.9 111.9,117.7 112.2,117.7 112.5,117.8 112.7,119.3 113.0,118.0 113.2,118.2 113.5,117.5 113.7,116.1 114.0,115.9 114.2,116.7 114.5,120.7 114.8,120.1 115.0,118.2 115.3,119.5 115.5,118.5 115.8,116.3 116.0,117.2 116.3,119.1 116.6,118.1 116.8,117.6 117.1,118.2 117.3,118.5 117.6,118.9 117.8,120.1 118.1,119.3 118.3,119.4 118.6,118.2 118.9,118.2 119.1,119.1 119.4,118.0 119.6,117.9 119.9,118.1 120.1,117.8 120.4,118.7 120.6,118.9 120.9,118.5 121.2,118.1 121.4,118.1 121.7,120.9 121.9,120.5 122.2,121.1 122.4,119.8 122.7,118.4 122.9,118.1 123.2,117.3 123.5,118.9 123.7,122.0 124.0,120.3 124.2,116.6 124.5,116.2 124.7,118.5 125.0,119.5 125.2,117.5 125.5,120.0 125.8,119.1 126.0,118.5 126.3,118.8 126.5,120.0 126.8,119.1 127.0,117.7 127.3,119.3 127.5,120.4 127.8,119.2 128.1,118.6 128.3,119.1 128.6,119.4 128.8,118.4 129.1,119.0 129.3,120.0 129.6,118.9 129.8,118.6 130.1,119.1 130.4,120.8 130.6,120.0 130.9,118.1 131.1,117.3 131.4,117.8 131.6,118.0 131.9,117.4 132.1,116.5 132.4,116.0 132.7,117.6 132.9,118.9 133.2,119.0 133.4,120.6 133.7,119.4 133.9,119.0 134.2,118.6 134.4,118.0 134.7,118.8 135.0,120.3 135.2,119.8 135.5,119.6 135.7,118.7 136.0,118.5 136.2,119.2 136.5,117.5 136.7,116.8 137.0,118.0 137.3,118.3 137.5,120.1 137.8,119.3 138.0,118.3 138.3,120.3 138.5,120.1 138.8,119.3 139.0,117.1 139.3,117.0 139.6,118.7 139.8,119.6 140.1,121.1 140.3,118.4 140.6,117.3 140.8,117.8 141.1,120.6 141.3,119.1 141.6,119.8 141.9,121.9 142.1,120.3 142.4,118.5 142.6,117.5 142.9,118.2 143.1,118.8 143.4,118.2 143.6,118.7 143.9,119.7 144.2,119.8 144.4,118.6 144.7,117.6 144.9,116.5 145.2,117.7 145.4,116.7 145.7,117.0 145.9,117.4 146.2,119.4 146.5,119.9 146.7,118.8 147.0,117.5 147.2,117.7 147.5,117.4 147.7,117.4 148.0,117.1 148.2,118.1 148.5,118.8 148.8,118.1 149.0,117.5 149.3,116.5 149.5,117.9 149.8,118.5 150.0,118.3 150.3,116.9 150.5,116.8 150.8,117.9 151.1,120.2 151.3,120.6 151.6,118.5 151.8,117.0 152.1,117.2 152.3,120.0 152.6,120.0 152.8,120.8 153.1,120.3 153.4,118.7 153.6,117.6 153.9,119.0 154.1,119.6 154.4,118.6 154.6,116.2 154.9,115.8 155.2,119.4 155.4,119.5 155.7,118.6 155.9,117.1 156.2,116.9 156.4,116.9 156.7,119.0 156.9,118.9 157.2,119.3 157.5,119.9 157.7,119.4 158.0,119.0 158.2,116.2 158.5,117.5 158.7,119.6 159.0,118.8 159.2,116.8 159.5,117.9 159.8,117.5 160.0,117.0 160.3,116.6 160.5,117.2 160.8,118.5 161.0,119.6 161.3,120.5 161.5,118.8 161.8,118.1 162.1,118.5 162.3,118.7 162.6,118.5 162.8,115.9 163.1,117.5 163.3,118.5 163.6,117.4 163.8,115.4 164.1,114.0 164.4,114.4 164.6,110.6 164.9,108.3 165.1,105.6 165.4,102.5 165.6,101.9 165.7,102.9 165.9,102.6 166.1,101.2 166.4,102.8 166.7,105.5 166.9,107.9 167.2,108.6 167.4,110.1 167.7,112.1 167.9,112.7 168.2,111.5 168.4,111.2 168.7,111.6 169.0,113.3 169.2,113.3 169.5,114.8 169.7,114.7 170.0,115.9 170.2,118.0 170.5,118.9 170.7,118.4 171.0,117.9 171.3,117.3 171.5,119.1 171.8,120.1 172.0,118.0 172.3,115.4 172.5,115.9 172.8,118.4 173.0,118.7 173.3,118.3 173.6,119.0 173.8,118.9 174.1,119.1 174.3,119.8 174.6,119.6 174.8,119.0 175.1,118.7 175.3,119.5 175.6,119.0 175.9,119.7 176.1,120.0 176.4,118.4 176.6,113.7 176.9,114.8 177.1,116.0 177.4,116.9 177.6,118.2 177.9,118.2 178.2,117.7 178.4,117.4 178.7,116.8 178.9,117.4 179.2,121.2 179.4,119.7 179.7,117.7 179.9,118.3 180.2,117.8 180.5,116.2 180.7,116.3 181.0,115.4 181.2,116.5 181.5,117.0 181.7,118.3 182.0,118.7 182.2,116.6 182.5,115.2 182.8,115.6 183.0,116.0 183.3,114.2 183.5,114.0 183.8,114.4 184.0,114.0 184.3,111.1 184.5,110.1 184.8,110.7 185.1,110.5 185.3,108.7 185.6,105.5 185.8,104.0 186.1,106.4 186.3,107.3 186.6,108.5 186.8,105.8 187.1,108.6 187.4,109.0 187.6,109.4 187.9,110.6 188.1,114.2 188.4,116.2 188.6,115.3 188.9,114.7 189.1,115.5 189.4,118.4 189.7,118.4 189.9,118.4 190.2,119.3 190.4,118.1 190.7,116.9 190.9,118.1 191.2,119.4 191.5,117.7 191.7,116.6 192.0,116.6 192.2,117.4 192.5,119.2 192.7,117.6 193.0,116.9 193.2,117.8 193.5,117.9 193.8,117.6 194.0,115.8 194.3,116.1 194.5,115.3 194.8,110.8 195.0,104.5 195.3,96.1 195.5,87.7 195.8,79.2 196.1,74.6 196.3,75.4 196.6,85.9 196.8,97.9 197.1,105.6 197.3,112.3 197.6,116.9 197.8,117.7 198.1,117.6 198.4,116.5 198.6,115.4 198.9,115.6 199.1,116.6 199.4,118.0 199.6,118.0 199.9,117.5 200.1,116.7 200.4,118.5 200.7,118.4 200.9,116.5 201.2,117.1 201.4,118.5 201.7,118.2 201.9,118.0 202.2,117.7 202.4,117.2 202.7,117.6 203.0,118.6 203.2,119.6 203.5,120.7 203.7,119.1 204.0,117.1 204.2,117.9 204.5,119.1 204.7,119.2 205.0,119.3 205.3,117.6 205.5,115.3 205.8,115.1 206.0,116.0 206.3,117.1 206.5,118.8 206.8,119.9 207.0,119.0 207.3,118.6 207.6,117.5 207.8,118.1 208.1,118.8 208.3,117.0 208.6,115.2 208.8,117.9 209.1,117.2 209.3,117.3 209.6,118.6 209.9,119.3 210.1,118.6 210.4,117.8 210.6,117.1 210.9,117.2 211.1,118.0 211.4,118.9 211.6,118.5 211.9,119.2 212.2,119.4 212.4,118.0 212.7,119.2 212.9,119.9 213.2,119.4 213.4,120.5 213.7,119.0 213.9,118.0 214.2,118.5 214.5,117.4 214.7,115.2 215.0,115.5 215.2,116.5 215.5,117.4 215.7,118.7 216.0,118.7 216.2,118.6 216.5,118.2 216.8,118.3 217.0,118.4 217.3,116.9 217.5,118.4 217.8,117.4 218.0,116.2 218.3,116.9 218.5,117.0 218.8,114.4 219.1,110.7 219.3,109.4 219.6,107.8 219.8,104.6 220.1,103.3 220.3,103.4 220.4,101.2 220.6,99.9 220.8,101.6 221.1,106.2 221.4,110.1 221.6,110.8 221.9,113.3 222.1,114.2 222.4,114.8 222.6,116.4 222.9,117.8 223.1,118.7 223.4,118.7 223.7,118.4 223.9,118.5 224.2,118.7 224.4,120.7 224.7,120.1 224.9,118.9 225.2,119.3 225.4,119.6 225.7,119.5 226.0,117.4 226.2,116.6 226.5,118.4 226.7,118.0 227.0,119.5 227.2,119.5 227.5,120.4 227.7,118.5 228.0,118.1 228.3,117.7 228.5,116.6 228.8,117.2 229.0,118.4 229.3,119.2 229.5,118.7 229.8,119.0 230.1,118.1 230.3,115.7 230.6,115.4 230.8,115.3 231.1,114.7 231.3,114.8 231.6,112.8 231.8,112.4 232.1,110.8 232.2,109.3 232.4,108.8 232.6,109.7 232.9,111.9 233.1,113.9 233.4,114.9 233.6,114.5 233.9,115.8 234.1,118.9 234.4,117.9 234.7,116.8 234.9,118.0 235.2,118.4 235.4,119.4 235.7,119.9 235.9,118.9 236.2,118.9 236.4,119.3 236.7,120.6 237.0,120.4 237.2,119.2 237.5,118.8 237.7,118.5 238.0,119.2 238.2,117.9 238.5,117.6 238.7,118.0 239.0,117.8 239.3,118.4 239.5,118.8 239.8,119.1 240.0,120.0 240.3,118.7 240.5,118.2 240.8,119.7 241.0,118.5 241.3,118.9 241.6,118.9 241.8,118.2 242.1,117.3 242.3,116.3 242.6,116.6 242.8,115.2 243.1,115.3 243.3,113.7 243.6,111.2 243.9,109.1 244.1,105.0 244.4,98.5 244.6,92.9 244.9,90.5 245.0,91.1 245.1,90.3 245.4,95.1 245.6,100.4 245.9,103.5 246.2,107.9 246.4,113.0 246.7,114.9 246.9,117.5 247.2,116.7 247.4,114.5 247.7,115.2 247.9,116.4 248.2,117.3 248.5,118.6 248.7,117.9 249.0,117.9 249.2,119.1 249.5,118.1 249.7,117.4 250.0,117.6 250.2,117.8 250.5,118.8 250.8,119.6 251.0,119.4 251.3,120.7 251.5,119.4 251.8,116.6 252.0,115.7 252.3,118.1 252.5,120.4 252.8,117.5 253.1,117.3 253.3,118.0 253.6,117.3 253.8,117.9 254.1,120.0 254.3,119.9 254.6,118.5 254.8,120.3 255.1,118.4 255.4,117.4 255.6,116.4 255.9,115.5 256.1,115.6 256.4,115.7 256.6,116.6 256.9,117.0 257.1,116.9 257.4,118.3 257.7,119.4 257.9,119.4 258.2,120.4 258.4,118.8 258.7,116.0 258.9,117.0 259.2,118.6 259.4,119.8 259.7,120.8 260.0,119.9 260.2,119.4 260.5,118.6 260.7,118.3 261.0,119.1 261.2,120.0 261.5,117.3 261.7,117.3 262.0,118.2" fill="none" stroke="#ff00ff" stroke-width="1.6" stroke-linejoin="round"/>
<polyline points="57.5,107.3 57.8,109.3 58.0,111.3 58.3,112.1 58.5,108.9 58.8,106.3 59.0,107.0 59.3,106.7 59.5,106.6 59.8,107.3 60.1,105.2 60.3,107.5 60.6,106.5 60.8,104.2 61.1,106.6 61.3,107.8 61.6,108.1 61.8,108.3 62.1,110.4 62.4,108.6 62.6,105.7 62.9,106.7 63.1,107.6 63.4,107.0 63.6,106.8 63.9,106.9 64.1,107.3 64.4,108.9 64.7,107.5 64.9,107.5 65.2,106.4 65.4,107.1 65.7,108.1 65.9,107.6 66.2,107.2 66.4,105.2 66.7,104.6 67.0,103.1 67.2,100.0 67.5,89.0 67.7,72.5 68.0,47.9 68.2,27.9 68.4,24.2 68.5,25.6 68.7,42.3 69.0,65.0 69.3,83.4 69.5,95.4 69.8,101.6 70.0,105.8 70.3,105.9 70.5,105.3 70.8,105.3 71.0,106.8 71.3,106.2 71.6,106.8 71.8,109.1 72.1,108.5 72.3,105.9 72.6,104.1 72.8,101.5 73.1,101.7 73.3,105.1 73.6,107.2 73.9,107.5 74.1,108.1 74.4,108.5 74.6,108.2 74.9,106.7 75.1,106.0 75.4,107.7 75.6,108.0 75.9,108.5 76.2,109.2 76.4,107.5 76.7,106.8 76.9,108.0 77.2,107.2 77.4,107.6 77.7,106.0 78.0,105.9 78.2,108.5 78.5,110.5 78.7,109.5 79.0,110.1 79.2,110.0 79.5,108.0 79.7,106.2 80.0,107.4 80.3,108.8 80.5,110.4 80.8,109.8 81.0,109.5 81.3,107.9 81.5,108.2 81.8,108.0 82.0,107.9 82.3,107.6 82.6,106.4 82.8,106.9 83.1,107.9 83.3,107.5 83.6,106.4 83.8,105.8 84.1,106.4 84.3,106.1 84.6,108.0 84.9,108.9 85.1,109.3 85.4,107.8 85.6,109.1 85.9,109.1 86.1,107.3 86.4,108.3 86.6,108.5 86.9,106.9 87.2,107.2 87.4,106.8 87.7,107.5 87.9,106.5 88.2,106.0 88.4,106.4 88.7,105.6 88.9,107.5 89.2,108.1 89.5,107.2 89.7,106.5 90.0,107.8 90.2,108.2 90.5,107.0 90.7,106.1 91.0,108.1 91.2,109.3 91.5,107.9 91.8,107.0 92.0,107.8 92.3,108.2 92.5,109.6 92.8,107.9 93.0,106.8 93.3,106.1 93.5,105.9 93.8,105.9 94.1,106.7 94.3,105.3 94.6,104.9 94.8,99.8 95.1,91.0 95.3,83.0 95.6,76.1 95.8,67.7 96.0,66.0 96.1,67.4 96.4,71.7 96.6,79.8 96.9,88.6 97.1,98.4 97.4,103.0 97.6,105.6 97.9,107.7 98.1,105.0 98.4,104.4 98.7,106.9 98.9,107.0 99.2,107.3 99.4,107.4 99.7,107.7 99.9,107.2 100.2,108.0 100.4,106.2 100.7,105.5 101.0,105.1 101.2,108.7 101.5,108.9 101.7,109.3 102.0,108.2 102.2,107.5 102.5,109.2 102.7,110.5 103.0,110.3 103.3,107.6 103.5,105.5 103.8,105.7 104.0,107.6 104.3,109.0 104.5,109.2 104.8,110.4 105.0,109.9 105.3,107.2 105.6,107.5 105.8,107.6 106.1,107.4 106.3,105.6 106.6,105.8 106.8,108.3 107.1,108.8 107.3,108.2 107.6,105.9 107.9,105.8 108.1,106.7 108.4,105.0 108.6,107.3 108.9,110.1 109.1,110.8 109.4,108.7 109.6,107.7 109.9,108.2 110.2,107.1 110.4,106.2 110.7,107.0 110.9,106.1 111.2,105.2 111.4,106.7 111.7,108.1 111.9,107.3 112.2,106.1 112.5,105.1 112.7,108.1 113.0,109.8 113.2,107.9 113.5,107.4 113.7,107.9 114.0,107.1 114.2,106.7 114.5,106.5 114.8,108.6 115.0,109.0 115.3,108.3 115.5,107.9 115.8,106.2 116.0,106.6 116.3,107.0 116.6,105.7 116.8,106.1 117.1,106.0 117.3,106.4 117.6,107.7 117.8,108.0 118.1,108.3 118.3,109.3 118.6,108.3 118.9,106.8 119.1,107.4 119.4,107.9 119.6,105.7 119.9,107.8 120.1,107.2 120.4,106.1 120.6,106.3 120.9,108.3 121.2,108.2 121.4,107.5 121.7,106.3 121.9,106.7 122.2,106.9 122.4,106.1 122.7,104.8 122.9,105.8 123.2,106.8 123.5,108.2 123.7,107.8 124.0,108.6 124.2,107.0 124.5,107.5 124.7,109.2 125.0,109.5 125.2,108.2 125.5,107.8 125.8,108.5 126.0,108.4 126.3,108.4 126.5,108.5 126.8,108.0 127.0,106.9 127.3,105.7 127.5,106.6 127.8,107.4 128.1,105.4 128.3,105.6 128.6,107.0 128.8,106.7 129.1,108.1 129.3,109.0 129.6,108.1 129.8,105.8 130.1,106.6 130.4,107.1 130.6,107.5 130.9,107.8 131.1,106.8 131.4,105.7 131.6,105.2 131.9,107.1 132.1,105.7 132.4,106.8 132.7,109.0 132.9,106.4 133.2,104.7 133.4,105.4 133.7,106.7 133.9,108.0 134.2,109.7 134.4,107.8 134.7,107.5 135.0,108.5 135.2,107.9 135.5,107.3 135.7,105.5 136.0,108.5 136.2,110.0 136.5,110.7 136.7,108.9 137.0,107.6 137.3,107.8 137.5,108.0 137.8,106.7 138.0,106.5 138.3,106.1 138.5,108.0 138.8,109.9 139.0,108.9 139.3,108.6 139.6,107.3 139.8,108.2 140.1,108.2 140.3,108.4 140.6,109.7 140.8,108.4 141.1,107.0 141.3,108.1 141.6,108.1 141.9,107.8 142.1,108.6 142.4,108.2 142.6,107.5 142.9,108.0 143.1,107.9 143.4,108.3 143.6,109.6 143.9,108.9 144.2,105.3 144.4,105.3 144.7,106.9 144.9,106.2 145.2,105.6 145.4,106.3 145.7,108.4 145.9,110.2 146.2,110.0 146.5,108.0 146.7,105.5 147.0,105.4 147.2,107.5 147.5,107.7 147.7,105.5 148.0,105.1 148.2,107.8 148.5,107.5 148.8,107.5 149.0,108.2 149.3,108.4 149.5,108.2 149.8,108.5 150.0,109.6 150.3,108.0 150.5,106.4 150.8,106.1 151.1,106.3 151.3,106.9 151.6,106.5 151.8,105.3 152.1,107.0 152.3,107.0 152.6,106.0 152.8,107.6 153.1,109.5 153.4,109.0 153.6,108.5 153.9,108.2 154.1,107.9 154.4,106.3 154.6,106.2 154.9,106.9 155.2,107.5 155.4,106.1 155.7,105.1 155.9,104.8 156.2,107.5 156.4,107.4 156.7,106.4 156.9,108.2 157.2,107.6 157.5,107.1 157.7,107.8 158.0,108.6 158.2,108.5 158.5,108.8 158.7,106.8 159.0,107.5 159.2,107.5 159.5,107.3 159.8,107.1 160.0,107.0 160.3,106.9 160.5,107.6 160.8,107.9 161.0,109.0 161.3,109.3 161.5,109.1 161.8,109.2 162.1,109.4 162.3,108.0 162.6,106.0 162.8,105.8 163.1,106.1 163.3,104.8 163.6,102.3 163.8,99.5 164.1,100.7 164.4,97.9 164.6,94.5 164.9,88.8 165.1,85.7 165.4,82.6 165.6,80.9 165.7,81.5 165.9,85.4 166.1,85.7 166.4,86.6 166.7,89.9 166.9,90.5 167.2,92.1 167.4,96.0 167.7,96.3 167.9,94.7 168.2,93.7 168.4,95.0 168.7,97.4 169.0,100.5 169.2,101.4 169.5,102.7 169.7,104.3 170.0,104.7 170.2,106.0 170.5,106.0 170.7,104.2 171.0,105.4 171.3,104.9 171.5,106.8 171.8,107.9 172.0,109.0 172.3,107.8 172.5,105.6 172.8,107.5 173.0,109.2 173.3,106.8 173.6,108.1 173.8,108.3 174.1,108.4 174.3,109.2 174.6,105.8 174.8,105.4 175.1,107.2 175.3,107.3 175.6,107.9 175.9,108.4 176.1,108.6 176.4,109.5 176.6,108.8 176.9,107.6 177.1,106.0 177.4,108.0 177.6,106.2 177.9,106.0 178.2,107.2 178.4,107.4 178.7,104.8 178.9,104.9 179.2,106.9 179.4,107.5 179.7,106.4 179.9,105.2 180.2,107.4 180.5,106.7 180.7,105.8 181.0,107.6 181.2,106.1 181.5,104.1 181.7,104.7 182.0,104.8 182.2,105.0 182.5,103.2 182.8,103.6 183.0,102.7 183.3,101.7 183.5,101.7 183.8,100.1 184.0,99.3 184.3,98.6 184.5,97.5 184.8,98.1 185.1,98.3 185.3,93.9 185.6,91.8 185.8,92.3 186.1,91.7 186.3,90.5 186.6,91.2 186.8,92.7 187.1,92.8 187.4,92.2 187.6,97.3 187.9,101.6 188.1,101.3 188.4,103.3 188.6,105.1 188.9,104.5 189.1,104.9 189.4,104.7 189.7,105.5 189.9,104.6 190.2,104.9 190.4,106.1 190.7,105.3 190.9,104.2 191.2,106.1 191.5,108.6 191.7,107.5 192.0,106.3 192.2,105.5 192.5,106.2 192.7,105.6 193.0,106.5 193.2,106.8 193.5,106.7 193.8,106.3 194.0,105.5 194.3,104.2 194.5,102.9 194.8,98.3 195.0,88.6 195.3,76.0 195.5,61.9 195.8,48.7 196.1,43.5 196.3,47.6 196.6,62.0 196.8,75.1 197.1,91.0 197.3,99.8 197.6,102.6 197.8,105.7 198.1,106.7 198.4,107.6 198.6,109.1 198.9,109.4 199.1,108.1 199.4,106.8 199.6,106.5 199.9,107.2 200.1,107.5 200.4,107.2 200.7,109.9 200.9,108.1 201.2,105.6 201.4,104.9 201.7,105.2 201.9,105.3 202.2,106.0 202.4,108.2 202.7,110.8 203.0,109.6 203.2,107.8 203.5,106.3 203.7,108.0 204.0,108.3 204.2,107.7 204.5,108.9 204.7,108.1 205.0,107.4 205.3,108.2 205.5,108.9 205.8,110.7 206.0,110.3 206.3,108.4 206.5,107.0 206.8,108.6 207.0,109.7 207.3,109.1 207.6,108.1 207.8,109.5 208.1,108.6 208.3,108.4 208.6,108.4 208.8,108.9 209.1,107.7 209.3,106.5 209.6,108.0 209.9,109.8 210.1,111.2 210.4,108.8 210.6,108.5 210.9,107.8 211.1,108.1 211.4,109.2 211.6,109.7 211.9,109.1 212.2,105.7 212.4,105.7 212.7,106.1 212.9,105.6 213.2,105.4 213.4,105.9 213.7,105.3 213.9,105.1 214.2,108.9 214.5,108.5 214.7,108.5 215.0,109.0 215.2,111.3 215.5,109.7 215.7,107.6 216.0,108.6 216.2,107.8 216.5,108.4 216.8,108.7 217.0,109.6 217.3,109.3 217.5,109.0 217.8,107.6 218.0,108.3 218.3,106.3 218.5,105.2 218.8,102.6 219.1,98.4 219.3,96.5 219.6,93.2 219.8,88.0 220.1,83.8 220.3,82.2 220.4,82.0 220.6,82.2 220.8,86.1 221.1,90.4 221.4,93.9 221.6,96.6 221.9,99.3 222.1,103.0 222.4,105.6 222.6,107.0 222.9,108.6 223.1,105.9 223.4,105.6 223.7,106.7 223.9,106.8 224.2,107.4 224.4,105.5 224.7,106.8 224.9,106.9 225.2,105.1 225.4,107.2 225.7,107.2 226.0,108.0 226.2,108.1 226.5,107.7 226.7,107.1 227.0,104.9 227.2,105.2 227.5,106.1 227.7,104.2 228.0,106.0 228.3,106.9 228.5,106.8 228.8,107.3 229.0,105.8 229.3,107.7 229.5,107.9 229.8,105.8 230.1,106.6 230.3,106.3 230.6,105.6 230.8,102.7 231.1,99.8 231.3,98.0 231.6,92.5 231.8,88.0 232.1,83.5 232.2,85.2 232.4,84.4 232.6,87.3 232.9,90.5 233.1,95.4 233.4,101.9 233.6,105.1 233.9,106.3 234.1,107.7 234.4,107.3 234.7,107.0 234.9,107.7 235.2,106.2 235.4,105.1 235.7,106.4 235.9,106.7 236.2,107.2 236.4,107.6 236.7,108.5 237.0,108.7 237.2,106.7 237.5,105.8 237.7,107.0 238.0,107.9 238.2,109.1 238.5,108.1 238.7,107.2 239.0,107.4 239.3,107.8 239.5,109.1 239.8,109.4 240.0,107.6 240.3,105.8 240.5,107.7 240.8,109.5 241.0,108.7 241.3,107.1 241.6,105.2 241.8,105.4 242.1,107.7 242.3,108.1 242.6,106.8 242.8,105.8 243.1,104.6 243.3,100.7 243.6,97.4 243.9,91.7 244.1,84.7 244.4,76.6 244.6,70.3 244.9,66.1 245.0,66.2 245.1,66.3 245.4,71.2 245.6,80.7 245.9,88.4 246.2,95.8 246.4,101.1 246.7,102.2 246.9,102.1 247.2,104.2 247.4,105.8 247.7,108.5 247.9,107.9 248.2,108.3 248.5,107.0 248.7,106.2 249.0,107.1 249.2,106.6 249.5,108.0 249.7,108.0 250.0,108.3 250.2,107.9 250.5,108.8 250.8,110.6 251.0,109.3 251.3,107.9 251.5,107.0 251.8,110.2 252.0,108.5 252.3,106.1 252.5,104.7 252.8,105.6 253.1,106.9 253.3,106.2 253.6,107.6 253.8,108.4 254.1,108.6 254.3,107.9 254.6,106.9 254.8,110.0 255.1,110.2 255.4,107.3 255.6,106.7 255.9,106.9 256.1,107.7 256.4,107.4 256.6,108.3 256.9,109.0 257.1,108.8 257.4,108.1 257.7,108.1 257.9,107.9 258.2,106.2 258.4,107.1 258.7,108.9 258.9,109.9 259.2,109.4 259.4,110.5 259.7,110.4 260.0,110.3 260.2,109.7 260.5,109.7 260.7,111.5 261.0,107.6 261.2,107.3 261.5,108.9 261.7,108.9 262.0,107.6" fill="none" stroke="#008000" stroke-width="1.6" stroke-linejoin="round"/>
</g>
<rect x="57.5" y="9" width="204.5" height="152.7" fill="none" stroke="#111" stroke-width="1.5"/>
<path d="M66.02,161.7v3.9M100.1,161.7v3.9M134.19,161.7v3.9M168.27,161.7v3.9M202.36,161.7v3.9M236.44,161.7v3.9M83.06,161.7v2.2M117.15,161.7v2.2M151.23,161.7v2.2M185.31,161.7v2.2M219.4,161.7v2.2M253.48,161.7v2.2" stroke="#111" stroke-width="1.2" fill="none"/>
<path d="M57.5,150.79h3.6M57.5,128.98h3.6M57.5,107.16h3.6M57.5,85.35h3.6M57.5,63.54h3.6M57.5,41.72h3.6M57.5,19.91h3.6M57.5,139.89h2.0M57.5,118.07h2.0M57.5,96.26h2.0M57.5,74.44h2.0M57.5,52.63h2.0M57.5,30.82h2.0" stroke="#111" stroke-width="1.2" fill="none"/>
<text x="66.02" y="177" font-size="11" text-anchor="middle" >600</text>
<text x="100.1" y="177" font-size="11" text-anchor="middle" >800</text>
<text x="134.19" y="177" font-size="11" text-anchor="middle" >1000</text>
<text x="168.27" y="177" font-size="11" text-anchor="middle" >1200</text>
<text x="202.36" y="177" font-size="11" text-anchor="middle" >1400</text>
<text x="236.44" y="177" font-size="11" text-anchor="middle" >1600</text>
<text x="53.5" y="154.29" font-size="11" text-anchor="end" >0</text>
<text x="53.5" y="132.48" font-size="11" text-anchor="end" >200</text>
<text x="53.5" y="110.66" font-size="11" text-anchor="end" >400</text>
<text x="53.5" y="88.85" font-size="11" text-anchor="end" >600</text>
<text x="53.5" y="67.04" font-size="11" text-anchor="end" >800</text>
<text x="53.5" y="45.22" font-size="11" text-anchor="end" >1000</text>
<text x="53.5" y="23.41" font-size="11" text-anchor="end" >1200</text>
<text x="74.3" y="27.5" font-size="11" text-anchor="start" >614</text>
<text x="89" y="62.4" font-size="11" text-anchor="start" >776</text>
<text x="183.6" y="40" font-size="11" text-anchor="start" >1363</text>
<text x="152.4" y="76.4" font-size="11" text-anchor="start" >1185</text>
<text x="172.5" y="89.2" font-size="11" text-anchor="start" >1306</text>
<text x="232.1" y="60.1" font-size="11" text-anchor="start" >1650</text>
<text x="203" y="76.4" font-size="11" text-anchor="start" >1506</text>
<text x="222.5" y="85.4" font-size="11" text-anchor="start" >1575</text>
<line x1="112.6" y1="17.9" x2="133.2" y2="17.9" stroke="#000000" stroke-width="1.3"/>
<text x="135.4" y="21.8" font-size="11" text-anchor="start" >8L</text>
<line x1="112.6" y1="32.3" x2="133.2" y2="32.3" stroke="#ff0000" stroke-width="1.3"/>
<text x="135.4" y="36.2" font-size="11" text-anchor="start" >6L</text>
<line x1="112.6" y1="46.9" x2="133.2" y2="46.9" stroke="#0000ff" stroke-width="1.3"/>
<text x="135.4" y="50.8" font-size="11" text-anchor="start" >5L</text>
<line x1="112.6" y1="61.0" x2="133.2" y2="61.0" stroke="#ff00ff" stroke-width="1.3"/>
<text x="135.4" y="64.9" font-size="11" text-anchor="start" >2L</text>
<line x1="112.6" y1="75.1" x2="133.2" y2="75.1" stroke="#008000" stroke-width="1.3"/>
<text x="135.4" y="79" font-size="11" text-anchor="start" >1L</text>
<text x="0" y="0" font-size="14.6" transform="translate(23.6,139) rotate(-90)">Intensity (a.u.)</text>
<text x="103.5" y="195.1" font-size="14.6">Raman shift (cm<tspan font-size="7.8" dy="-7.4">-1</tspan><tspan dy="7.4">)</tspan></text>
<text x="8" y="18.7" font-size="16" text-anchor="start" >(a)</text>
<clipPath id="c333"><rect x="333.4" y="9.1" width="204.5" height="152.7"/></clipPath>
<g clip-path="url(#c333)">
<polyline points="333.4,151.4 333.7,150.0 333.9,149.7 334.2,150.6 334.4,151.1 334.7,152.0 334.9,152.6 335.2,152.8 335.4,152.3 335.7,150.9 336.0,151.1 336.2,151.5 336.5,152.3 336.7,152.9 337.0,153.0 337.2,152.3 337.5,151.1 337.7,151.3 338.0,151.9 338.3,152.2 338.5,152.4 338.8,151.1 339.0,152.1 339.3,151.1 339.5,150.2 339.8,153.4 340.0,153.6 340.3,152.4 340.6,152.0 340.8,152.9 341.1,152.1 341.3,151.4 341.6,151.9 341.8,153.2 342.1,150.9 342.3,149.5 342.6,150.5 342.9,151.7 343.1,152.1 343.4,152.0 343.6,147.9 343.9,143.9 344.1,143.3 344.3,143.5 344.4,144.4 344.6,145.1 344.9,147.3 345.2,148.9 345.4,151.8 345.7,151.9 345.9,150.5 346.2,150.1 346.4,150.5 346.7,150.2 346.9,150.9 347.2,151.7 347.5,150.7 347.7,151.9 348.0,152.8 348.2,150.9 348.5,149.4 348.7,149.7 349.0,150.2 349.2,151.6 349.5,153.3 349.8,151.5 350.0,151.8 350.3,153.9 350.5,153.0 350.8,152.1 351.0,150.7 351.3,150.9 351.5,151.0 351.8,151.5 352.1,153.1 352.3,153.5 352.6,152.0 352.8,151.7 353.1,151.6 353.3,151.7 353.6,151.7 353.9,151.0 354.1,151.3 354.4,152.5 354.6,154.0 354.9,154.7 355.1,153.5 355.4,151.7 355.6,150.8 355.9,151.3 356.2,150.6 356.4,149.5 356.7,148.9 356.9,150.0 357.2,149.9 357.4,151.1 357.7,153.1 357.9,153.7 358.2,151.6 358.5,149.8 358.7,149.2 359.0,151.1 359.2,151.2 359.5,152.1 359.7,153.4 360.0,151.9 360.2,152.0 360.5,152.1 360.8,150.5 361.0,151.3 361.3,151.3 361.5,151.7 361.8,152.2 362.0,151.5 362.3,151.0 362.5,152.3 362.8,152.5 363.1,150.2 363.3,150.8 363.6,152.2 363.8,152.2 364.1,152.8 364.3,151.7 364.6,151.2 364.8,152.6 365.1,151.0 365.4,150.5 365.6,151.4 365.9,151.5 366.1,151.8 366.4,152.4 366.6,152.7 366.9,150.7 367.1,151.5 367.4,151.5 367.7,151.4 367.9,150.9 368.2,151.1 368.4,152.0 368.7,151.4 368.9,151.8 369.2,151.9 369.4,150.1 369.7,150.2 370.0,151.9 370.2,152.1 370.5,152.5 370.7,152.6 371.0,151.7 371.2,150.5 371.5,151.3 371.7,151.1 371.9,149.5 372.0,149.6 372.3,149.1 372.5,150.7 372.8,151.5 373.0,152.4 373.3,153.3 373.5,151.4 373.8,150.3 374.0,150.4 374.3,151.1 374.6,150.9 374.8,151.3 375.1,151.8 375.3,152.2 375.6,152.0 375.8,152.1 376.1,151.3 376.3,152.1 376.6,152.6 376.9,151.8 377.1,152.0 377.4,153.2 377.6,153.0 377.9,152.1 378.1,151.1 378.4,150.6 378.6,150.6 378.9,151.7 379.2,152.7 379.4,152.9 379.7,151.9 379.9,151.6 380.2,150.9 380.4,149.8 380.7,149.6 380.9,151.4 381.2,151.7 381.5,152.4 381.7,151.3 382.0,152.2 382.2,152.2 382.5,152.0 382.7,150.2 383.0,150.2 383.2,150.5 383.5,151.2 383.8,151.4 384.0,152.4 384.3,151.8 384.5,150.9 384.8,152.6 385.0,151.5 385.3,150.0 385.5,149.9 385.8,150.5 386.1,150.8 386.3,150.3 386.6,151.3 386.8,152.0 387.1,152.8 387.3,151.7 387.6,151.6 387.8,152.2 388.1,153.8 388.4,153.2 388.6,152.3 388.9,152.3 389.1,150.6 389.4,149.4 389.6,150.7 389.9,151.2 390.1,151.8 390.4,152.4 390.7,152.7 390.9,151.8 391.2,152.7 391.4,152.5 391.7,152.5 391.9,153.0 392.2,152.6 392.5,151.6 392.7,150.7 393.0,150.9 393.2,150.4 393.5,150.9 393.7,151.2 394.0,151.2 394.2,151.5 394.5,150.9 394.8,151.2 395.0,151.0 395.3,150.3 395.5,152.1 395.8,152.7 396.0,151.9 396.3,151.5 396.5,151.5 396.8,150.8 397.1,150.9 397.3,151.6 397.6,152.1 397.8,150.5 398.1,151.3 398.3,151.9 398.6,150.6 398.8,151.4 399.1,152.5 399.4,152.7 399.6,152.1 399.9,152.4 400.1,152.6 400.4,152.0 400.6,151.9 400.9,151.8 401.1,150.4 401.4,149.5 401.7,150.0 401.9,151.6 402.2,152.5 402.4,153.1 402.7,152.5 402.9,152.4 403.2,151.7 403.4,151.5 403.7,151.1 404.0,151.3 404.2,151.0 404.5,151.6 404.7,153.8 405.0,153.0 405.2,151.6 405.5,151.4 405.7,151.5 406.0,151.7 406.3,151.2 406.5,151.8 406.8,152.1 407.0,152.0 407.3,150.9 407.5,150.6 407.8,151.2 408.0,151.8 408.3,152.9 408.6,151.9 408.8,153.2 409.1,153.3 409.3,154.0 409.6,153.0 409.8,151.7 410.1,150.3 410.3,152.8 410.6,154.2 410.9,152.3 411.1,151.5 411.4,150.4 411.6,151.0 411.9,152.9 412.1,152.5 412.4,151.9 412.6,151.7 412.9,151.8 413.2,151.7 413.4,151.9 413.7,153.4 413.9,152.5 414.2,150.2 414.4,149.9 414.7,150.8 414.9,150.6 415.2,150.0 415.5,149.9 415.7,151.3 416.0,151.7 416.2,150.6 416.5,151.6 416.7,152.1 417.0,151.2 417.2,151.4 417.5,151.6 417.8,151.3 418.0,150.7 418.3,151.0 418.5,151.7 418.8,153.0 419.0,153.4 419.3,153.0 419.5,152.0 419.8,150.7 420.1,151.7 420.3,151.4 420.6,149.6 420.8,150.6 421.1,151.4 421.3,150.8 421.6,150.6 421.8,149.7 422.1,150.5 422.4,151.4 422.6,150.8 422.9,151.3 423.1,149.6 423.4,150.7 423.6,152.1 423.9,149.9 424.1,151.7 424.4,152.7 424.7,150.2 424.9,151.3 425.2,151.5 425.4,151.3 425.7,150.9 425.9,151.0 426.2,151.7 426.4,149.1 426.7,149.7 427.0,150.7 427.2,150.4 427.5,150.5 427.7,150.1 428.0,150.0 428.2,150.0 428.5,150.5 428.7,151.0 429.0,151.1 429.3,151.3 429.5,151.3 429.8,152.7 430.0,152.7 430.3,151.4 430.5,152.3 430.8,151.3 431.1,151.3 431.3,153.2 431.6,151.4 431.8,150.1 432.1,151.0 432.3,150.6 432.6,152.7 432.8,154.1 433.1,153.3 433.4,152.3 433.6,151.1 433.9,151.8 434.1,152.5 434.4,152.1 434.6,151.2 434.9,153.4 435.1,153.6 435.4,152.6 435.7,151.7 435.9,150.7 436.2,150.6 436.4,151.8 436.7,151.7 436.9,151.6 437.2,149.5 437.4,151.2 437.7,152.5 438.0,151.0 438.2,150.7 438.5,150.1 438.7,150.9 439.0,152.6 439.2,151.5 439.5,151.7 439.7,152.0 440.0,151.5 440.3,151.4 440.5,150.8 440.8,150.1 441.0,150.6 441.3,150.2 441.5,149.5 441.6,150.8 441.8,150.5 442.0,150.3 442.3,150.1 442.6,151.3 442.8,150.7 443.1,149.9 443.3,150.3 443.6,150.4 443.8,150.8 444.1,150.6 444.3,150.7 444.6,150.3 444.9,151.0 445.1,151.5 445.4,151.3 445.6,150.7 445.9,148.7 446.1,149.8 446.4,150.9 446.6,151.1 446.9,150.7 447.2,151.5 447.4,151.9 447.7,152.0 447.9,151.8 448.2,151.9 448.4,152.2 448.7,151.6 448.9,152.0 449.2,150.8 449.5,150.3 449.7,151.7 450.0,151.7 450.2,150.8 450.5,151.5 450.7,151.4 451.0,151.4 451.2,151.7 451.5,151.9 451.8,151.0 452.0,151.2 452.3,151.7 452.5,152.0 452.8,152.3 453.0,151.0 453.3,150.3 453.5,150.0 453.8,151.0 454.1,149.9 454.3,150.3 454.6,150.6 454.8,152.3 455.1,151.4 455.3,151.2 455.6,152.4 455.8,151.1 456.1,150.6 456.4,151.5 456.6,150.6 456.9,150.4 457.1,150.4 457.4,151.6 457.6,152.5 457.9,152.0 458.1,151.9 458.4,153.0 458.7,151.5 458.9,151.1 459.2,152.2 459.4,154.1 459.7,153.1 459.9,152.0 460.2,151.6 460.4,151.3 460.7,152.1 461.0,151.8 461.2,150.4 461.5,150.3 461.7,151.2 462.0,152.1 462.2,151.2 462.5,151.2 462.7,150.8 463.0,149.9 463.3,151.2 463.5,151.5 463.8,151.7 464.0,150.3 464.3,148.9 464.5,151.0 464.8,152.1 465.0,151.2 465.3,151.5 465.6,152.5 465.8,151.3 466.1,151.7 466.3,150.8 466.6,151.2 466.8,151.7 467.1,151.4 467.4,152.2 467.6,153.0 467.9,152.4 468.1,152.0 468.4,152.5 468.6,152.1 468.9,152.2 469.1,151.2 469.4,151.4 469.7,152.5 469.9,153.6 470.2,152.5 470.4,153.3 470.7,152.8 470.9,151.9 471.2,149.7 471.4,149.7 471.7,149.3 472.0,149.3 472.2,149.7 472.5,150.0 472.7,151.3 473.0,150.3 473.2,150.4 473.5,151.7 473.7,153.7 474.0,154.0 474.3,153.2 474.5,152.1 474.8,151.2 475.0,151.6 475.3,151.9 475.5,151.9 475.8,152.4 476.0,152.5 476.3,151.8 476.6,150.8 476.8,151.1 477.1,150.8 477.3,150.7 477.6,152.8 477.8,152.7 478.1,151.3 478.3,151.2 478.6,152.3 478.9,153.0 479.1,151.9 479.4,151.1 479.6,150.9 479.9,151.8 480.1,152.0 480.4,153.2 480.6,153.0 480.9,150.5 481.2,151.1 481.4,150.6 481.7,150.6 481.9,150.8 482.2,149.8 482.4,149.5 482.7,151.2 482.9,151.8 483.2,152.4 483.5,151.4 483.7,151.0 484.0,151.8 484.2,152.1 484.5,152.1 484.7,151.5 485.0,150.6 485.2,151.3 485.5,151.9 485.8,152.1 486.0,151.2 486.3,151.1 486.5,151.2 486.8,150.5 487.0,151.8 487.3,150.6 487.5,151.0 487.8,152.2 488.1,150.8 488.3,149.5 488.6,149.8 488.8,150.2 489.1,150.4 489.3,151.9 489.6,151.9 489.8,152.5 490.1,152.0 490.4,151.4 490.6,151.3 490.9,151.4 491.1,151.6 491.4,151.2 491.6,150.5 491.9,150.0 492.1,150.4 492.4,150.3 492.7,151.4 492.9,150.8 493.2,150.5 493.4,150.3 493.7,149.4 493.9,150.7 494.2,151.2 494.4,152.2 494.7,152.3 495.0,151.3 495.2,149.8 495.5,150.4 495.7,151.2 496.0,150.2 496.2,149.3 496.3,150.8 496.5,150.9 496.7,151.3 497.0,151.1 497.3,150.6 497.5,151.6 497.8,151.2 498.0,151.0 498.3,151.7 498.5,151.9 498.8,151.3 499.0,152.1 499.3,152.1 499.6,150.3 499.8,151.3 500.1,152.9 500.3,152.5 500.6,152.0 500.8,151.7 501.1,151.6 501.3,150.7 501.6,150.1 501.9,150.2 502.1,152.9 502.4,152.5 502.6,152.5 502.9,153.9 503.1,152.2 503.4,150.2 503.6,151.3 503.9,151.2 504.2,151.8 504.4,153.4 504.7,152.6 504.9,150.8 505.2,149.7 505.4,149.8 505.7,151.5 506.0,151.5 506.2,152.1 506.5,152.5 506.7,153.1 507.0,151.0 507.2,149.4 507.5,150.1 507.7,150.5 508.0,150.3 508.1,150.9 508.3,151.7 508.5,150.7 508.8,150.7 509.0,149.3 509.3,149.9 509.5,150.9 509.8,151.9 510.0,153.6 510.3,152.0 510.6,151.3 510.8,151.6 511.1,151.9 511.3,150.9 511.6,151.0 511.8,151.6 512.1,152.0 512.3,152.6 512.6,151.2 512.9,152.0 513.1,153.2 513.4,151.7 513.6,150.8 513.9,150.1 514.1,151.4 514.4,153.0 514.6,152.5 514.9,150.7 515.2,151.4 515.4,151.9 515.7,150.6 515.9,149.5 516.2,150.1 516.4,151.0 516.7,151.0 516.9,152.2 517.2,152.3 517.5,151.8 517.7,151.5 518.0,149.5 518.2,150.4 518.5,153.0 518.7,152.7 519.0,152.4 519.2,151.1 519.5,151.1 519.8,150.2 520.0,149.7 520.3,150.6 520.5,150.2 520.8,149.1 520.9,150.1 521.0,148.6 521.3,149.7 521.5,150.8 521.8,150.1 522.1,151.9 522.3,152.9 522.6,153.6 522.8,152.7 523.1,151.0 523.3,151.2 523.6,151.3 523.8,152.3 524.1,151.1 524.4,149.9 524.6,150.0 524.9,150.8 525.1,149.9 525.4,149.4 525.6,150.9 525.9,150.7 526.1,150.8 526.4,151.4 526.7,152.0 526.9,151.8 527.2,151.0 527.4,150.5 527.7,151.0 527.9,150.9 528.2,150.8 528.4,151.3 528.7,153.1 529.0,152.6 529.2,151.9 529.5,151.4 529.7,150.5 530.0,150.1 530.2,150.3 530.5,150.9 530.7,152.0 531.0,152.7 531.3,151.8 531.5,150.2 531.8,151.2 532.0,151.3 532.3,150.1 532.5,150.9 532.8,152.0 533.0,151.9 533.3,152.8 533.6,153.0 533.8,150.6 534.1,149.0 534.3,150.0 534.6,152.3 534.8,152.4 535.1,150.5 535.3,150.2 535.6,150.2 535.9,150.4 536.1,150.7 536.4,149.8 536.6,150.8 536.9,149.8 537.1,150.6 537.4,151.5 537.6,151.7 537.9,152.8" fill="none" stroke="#000000" stroke-width="1.6" stroke-linejoin="round"/>
<polyline points="333.4,141.5 333.7,141.4 333.9,142.8 334.2,141.4 334.4,142.0 334.7,143.1 334.9,143.4 335.2,143.3 335.4,142.5 335.7,141.4 336.0,141.3 336.2,142.0 336.5,143.8 336.7,143.5 337.0,141.1 337.2,140.4 337.5,139.9 337.7,140.9 338.0,142.3 338.3,141.2 338.5,141.3 338.8,142.0 339.0,142.7 339.3,142.4 339.5,142.0 339.8,141.4 340.0,141.3 340.3,141.0 340.6,142.1 340.8,141.7 341.1,141.7 341.3,142.8 341.6,142.7 341.8,141.1 342.1,141.0 342.3,141.3 342.6,141.1 342.9,140.8 343.1,138.8 343.4,135.0 343.6,126.9 343.9,116.1 344.1,107.5 344.3,105.4 344.4,106.7 344.6,114.2 344.9,125.1 345.2,133.0 345.4,137.7 345.7,140.2 345.9,140.9 346.2,140.0 346.4,140.4 346.7,142.0 346.9,141.6 347.2,143.1 347.5,143.0 347.7,142.3 348.0,142.2 348.2,143.0 348.5,142.9 348.7,142.4 349.0,142.8 349.2,142.6 349.5,141.5 349.8,141.2 350.0,141.9 350.3,142.2 350.5,142.3 350.8,142.7 351.0,143.0 351.3,143.0 351.5,142.0 351.8,142.1 352.1,142.3 352.3,141.9 352.6,141.3 352.8,141.0 353.1,142.2 353.3,142.5 353.6,142.4 353.9,142.5 354.1,141.2 354.4,141.0 354.6,141.4 354.9,141.9 355.1,141.4 355.4,141.1 355.6,141.6 355.9,142.8 356.2,143.4 356.4,142.0 356.7,142.5 356.9,142.8 357.2,141.6 357.4,142.1 357.7,143.3 357.9,142.7 358.2,142.2 358.5,142.0 358.7,143.6 359.0,143.1 359.2,142.1 359.5,141.4 359.7,143.5 360.0,145.2 360.2,144.0 360.5,142.2 360.8,141.0 361.0,140.5 361.3,141.7 361.5,142.5 361.8,141.7 362.0,142.0 362.3,142.4 362.5,141.9 362.8,141.4 363.1,142.9 363.3,143.3 363.6,142.5 363.8,142.5 364.1,143.1 364.3,143.0 364.6,141.8 364.8,140.8 365.1,141.1 365.4,141.1 365.6,141.5 365.9,143.8 366.1,144.1 366.4,143.4 366.6,143.6 366.9,143.2 367.1,142.7 367.4,143.2 367.7,143.3 367.9,144.1 368.2,143.0 368.4,141.4 368.7,142.0 368.9,141.7 369.2,141.4 369.4,141.9 369.7,141.3 370.0,141.0 370.2,140.6 370.5,140.8 370.7,139.9 371.0,136.9 371.2,132.3 371.5,127.4 371.7,124.7 371.9,124.0 372.0,124.1 372.3,125.8 372.5,130.1 372.8,133.6 373.0,138.3 373.3,140.2 373.5,140.1 373.8,141.0 374.0,142.2 374.3,142.3 374.6,142.3 374.8,141.3 375.1,141.5 375.3,142.3 375.6,142.0 375.8,142.3 376.1,142.2 376.3,142.2 376.6,142.4 376.9,141.8 377.1,141.6 377.4,141.4 377.6,141.2 377.9,142.5 378.1,143.6 378.4,142.9 378.6,142.2 378.9,142.0 379.2,141.5 379.4,141.4 379.7,142.1 379.9,142.6 380.2,142.8 380.4,141.7 380.7,142.4 380.9,143.4 381.2,143.5 381.5,142.4 381.7,140.9 382.0,141.6 382.2,143.4 382.5,142.7 382.7,141.9 383.0,141.6 383.2,142.0 383.5,142.5 383.8,142.2 384.0,143.2 384.3,144.4 384.5,143.6 384.8,142.7 385.0,141.4 385.3,141.4 385.5,142.7 385.8,142.4 386.1,142.5 386.3,143.9 386.6,144.3 386.8,142.8 387.1,142.3 387.3,143.4 387.6,144.6 387.8,143.1 388.1,142.9 388.4,143.2 388.6,143.0 388.9,143.1 389.1,142.1 389.4,142.2 389.6,142.6 389.9,142.2 390.1,142.6 390.4,143.5 390.7,142.9 390.9,143.1 391.2,143.9 391.4,143.1 391.7,142.2 391.9,142.2 392.2,140.8 392.5,140.6 392.7,141.9 393.0,141.4 393.2,140.6 393.5,142.2 393.7,143.2 394.0,143.2 394.2,143.8 394.5,143.6 394.8,142.5 395.0,142.5 395.3,142.0 395.5,142.0 395.8,142.8 396.0,142.7 396.3,142.7 396.5,143.1 396.8,143.0 397.1,142.3 397.3,142.2 397.6,141.8 397.8,141.1 398.1,141.5 398.3,143.1 398.6,143.3 398.8,142.6 399.1,142.0 399.4,141.7 399.6,142.9 399.9,142.8 400.1,141.8 400.4,140.8 400.6,141.1 400.9,142.7 401.1,142.9 401.4,142.7 401.7,141.7 401.9,141.8 402.2,142.6 402.4,142.8 402.7,141.9 402.9,141.6 403.2,142.7 403.4,142.7 403.7,142.2 404.0,142.1 404.2,142.2 404.5,143.1 404.7,143.5 405.0,144.1 405.2,142.5 405.5,141.9 405.7,143.8 406.0,143.1 406.3,141.7 406.5,142.6 406.8,143.5 407.0,142.2 407.3,142.7 407.5,141.7 407.8,142.5 408.0,143.0 408.3,142.4 408.6,142.1 408.8,141.6 409.1,141.7 409.3,141.9 409.6,141.0 409.8,141.3 410.1,141.8 410.3,142.1 410.6,142.3 410.9,142.2 411.1,141.6 411.4,141.7 411.6,141.8 411.9,141.5 412.1,142.1 412.4,141.7 412.6,141.7 412.9,143.0 413.2,142.3 413.4,141.2 413.7,142.3 413.9,141.9 414.2,142.7 414.4,142.5 414.7,143.1 414.9,143.1 415.2,142.9 415.5,142.5 415.7,141.4 416.0,141.1 416.2,141.3 416.5,141.4 416.7,140.6 417.0,140.9 417.2,142.0 417.5,142.8 417.8,141.8 418.0,141.5 418.3,141.8 418.5,141.4 418.8,141.5 419.0,142.1 419.3,141.8 419.5,141.7 419.8,142.0 420.1,142.6 420.3,142.7 420.6,141.9 420.8,140.5 421.1,140.1 421.3,142.2 421.6,143.3 421.8,143.0 422.1,143.1 422.4,142.7 422.6,142.3 422.9,142.7 423.1,141.8 423.4,141.0 423.6,140.3 423.9,140.1 424.1,140.4 424.4,140.3 424.7,142.0 424.9,142.1 425.2,141.9 425.4,141.6 425.7,141.4 425.9,141.8 426.2,140.6 426.4,140.7 426.7,141.5 427.0,142.0 427.2,143.5 427.5,144.5 427.7,142.9 428.0,141.9 428.2,142.2 428.5,143.2 428.7,142.4 429.0,140.8 429.3,141.0 429.5,141.6 429.8,142.1 430.0,141.4 430.3,140.8 430.5,141.4 430.8,142.3 431.1,142.3 431.3,142.9 431.6,142.5 431.8,142.0 432.1,142.5 432.3,142.1 432.6,141.2 432.8,141.8 433.1,141.7 433.4,142.5 433.6,143.2 433.9,142.6 434.1,143.0 434.4,144.2 434.6,143.8 434.9,142.4 435.1,141.3 435.4,142.2 435.7,142.2 435.9,141.6 436.2,141.8 436.4,141.9 436.7,140.5 436.9,141.3 437.2,143.4 437.4,141.9 437.7,141.2 438.0,141.1 438.2,141.5 438.5,140.8 438.7,139.8 439.0,139.5 439.2,139.6 439.5,139.9 439.7,139.9 440.0,140.0 440.3,140.1 440.5,137.8 440.8,137.8 441.0,137.6 441.3,137.0 441.5,137.2 441.6,137.3 441.8,137.7 442.0,138.5 442.3,139.4 442.6,140.6 442.8,140.6 443.1,139.5 443.3,139.9 443.6,140.1 443.8,140.4 444.1,141.2 444.3,141.4 444.6,141.6 444.9,141.8 445.1,142.9 445.4,141.9 445.6,140.5 445.9,140.2 446.1,140.5 446.4,141.5 446.6,142.4 446.9,141.5 447.2,141.4 447.4,142.1 447.7,142.9 447.9,141.8 448.2,140.7 448.4,141.2 448.7,142.0 448.9,141.8 449.2,142.0 449.5,141.8 449.7,141.4 450.0,141.7 450.2,141.9 450.5,142.1 450.7,143.0 451.0,143.0 451.2,142.2 451.5,142.4 451.8,142.4 452.0,143.2 452.3,141.7 452.5,141.5 452.8,141.5 453.0,144.1 453.3,143.8 453.5,141.4 453.8,141.6 454.1,141.8 454.3,141.9 454.6,141.8 454.8,141.9 455.1,142.8 455.3,142.2 455.6,141.1 455.8,141.7 456.1,142.4 456.4,141.8 456.6,141.1 456.9,141.7 457.1,141.7 457.4,140.9 457.6,140.1 457.9,139.7 458.1,140.5 458.4,140.1 458.7,140.1 458.9,141.6 459.2,140.7 459.4,140.0 459.7,140.4 459.9,140.6 460.2,139.3 460.4,138.4 460.7,139.0 461.0,139.1 461.2,138.1 461.5,136.2 461.7,136.0 462.0,137.1 462.2,137.3 462.5,138.5 462.7,138.1 463.0,138.0 463.3,138.4 463.5,139.6 463.8,139.5 464.0,139.8 464.3,140.8 464.5,139.1 464.8,139.7 465.0,141.0 465.3,142.6 465.6,142.5 465.8,140.9 466.1,141.4 466.3,143.2 466.6,141.4 466.8,140.8 467.1,141.5 467.4,142.5 467.6,142.1 467.9,142.1 468.1,141.1 468.4,140.0 468.6,140.5 468.9,140.8 469.1,141.9 469.4,142.5 469.7,141.4 469.9,140.0 470.2,139.3 470.4,139.3 470.7,137.6 470.9,135.0 471.2,130.9 471.4,124.0 471.7,118.6 472.0,116.8 472.2,119.5 472.5,125.2 472.7,129.5 473.0,133.2 473.2,137.2 473.5,139.1 473.7,140.4 474.0,141.7 474.3,141.7 474.5,141.4 474.8,139.6 475.0,141.1 475.3,143.1 475.5,143.0 475.8,141.0 476.0,141.0 476.3,141.9 476.6,143.1 476.8,143.1 477.1,142.8 477.3,141.6 477.6,141.7 477.8,140.5 478.1,141.2 478.3,141.8 478.6,141.7 478.9,143.6 479.1,143.4 479.4,142.4 479.6,141.1 479.9,140.9 480.1,142.0 480.4,143.6 480.6,143.3 480.9,142.8 481.2,141.5 481.4,142.0 481.7,141.3 481.9,140.5 482.2,141.5 482.4,141.7 482.7,142.2 482.9,142.2 483.2,142.1 483.5,142.1 483.7,142.2 484.0,141.9 484.2,140.9 484.5,142.1 484.7,142.2 485.0,142.9 485.2,143.8 485.5,141.9 485.8,142.1 486.0,143.4 486.3,143.5 486.5,143.6 486.8,141.9 487.0,140.5 487.3,141.1 487.5,143.3 487.8,143.7 488.1,141.7 488.3,140.7 488.6,141.4 488.8,141.7 489.1,143.0 489.3,142.5 489.6,141.9 489.8,142.4 490.1,142.3 490.4,141.8 490.6,142.7 490.9,142.9 491.1,141.7 491.4,142.0 491.6,142.7 491.9,142.2 492.1,142.3 492.4,141.7 492.7,142.0 492.9,142.5 493.2,142.7 493.4,142.0 493.7,141.4 493.9,140.3 494.2,141.5 494.4,141.8 494.7,140.0 495.0,140.6 495.2,138.4 495.5,137.6 495.7,135.7 496.0,135.1 496.2,134.5 496.3,134.9 496.5,135.0 496.7,135.6 497.0,137.1 497.3,138.2 497.5,140.2 497.8,141.2 498.0,141.5 498.3,141.3 498.5,141.0 498.8,142.4 499.0,143.1 499.3,143.2 499.6,142.5 499.8,141.9 500.1,142.6 500.3,142.7 500.6,142.6 500.8,142.7 501.1,143.5 501.3,141.9 501.6,141.5 501.9,142.6 502.1,142.7 502.4,142.6 502.6,141.4 502.9,140.6 503.1,139.7 503.4,141.8 503.6,143.0 503.9,143.1 504.2,143.2 504.4,142.2 504.7,141.5 504.9,141.1 505.2,141.6 505.4,141.8 505.7,140.8 506.0,140.7 506.2,141.0 506.5,142.0 506.7,141.5 507.0,140.2 507.2,139.2 507.5,138.3 507.7,135.2 508.0,134.5 508.1,134.7 508.3,133.8 508.5,134.4 508.8,136.2 509.0,138.3 509.3,140.1 509.5,140.2 509.8,140.2 510.0,142.7 510.3,142.7 510.6,141.4 510.8,140.9 511.1,142.5 511.3,142.6 511.6,141.2 511.8,139.7 512.1,141.9 512.3,142.2 512.6,141.7 512.9,142.3 513.1,141.8 513.4,141.7 513.6,142.1 513.9,141.4 514.1,140.6 514.4,141.6 514.6,142.6 514.9,142.7 515.2,141.8 515.4,141.1 515.7,141.6 515.9,141.0 516.2,140.0 516.4,142.2 516.7,143.0 516.9,142.1 517.2,141.9 517.5,141.2 517.7,140.7 518.0,141.3 518.2,141.8 518.5,141.3 518.7,141.1 519.0,141.4 519.2,141.1 519.5,139.7 519.8,139.2 520.0,138.3 520.3,136.0 520.5,135.1 520.8,134.4 520.9,134.0 521.0,134.7 521.3,135.8 521.5,137.8 521.8,139.5 522.1,139.1 522.3,139.3 522.6,141.0 522.8,140.5 523.1,140.1 523.3,140.6 523.6,142.5 523.8,142.3 524.1,140.9 524.4,141.6 524.6,141.8 524.9,141.3 525.1,141.5 525.4,142.4 525.6,142.2 525.9,141.5 526.1,141.9 526.4,142.2 526.7,141.0 526.9,141.1 527.2,142.2 527.4,142.4 527.7,142.1 527.9,143.7 528.2,142.8 528.4,142.7 528.7,142.5 529.0,141.5 529.2,140.8 529.5,139.6 529.7,141.3 530.0,142.2 530.2,142.8 530.5,141.8 530.7,142.2 531.0,141.7 531.3,140.7 531.5,140.7 531.8,141.0 532.0,141.0 532.3,142.3 532.5,143.3 532.8,143.4 533.0,141.5 533.3,140.4 533.6,141.8 533.8,142.2 534.1,142.2 534.3,142.3 534.6,143.2 534.8,141.6 535.1,141.2 535.3,142.6 535.6,143.3 535.9,142.9 536.1,141.5 536.4,141.1 536.6,142.9 536.9,143.6 537.1,142.3 537.4,141.7 537.6,141.6 537.9,142.5" fill="none" stroke="#ff0000" stroke-width="1.6" stroke-linejoin="round"/>
<polyline points="333.4,135.0 333.7,135.3 333.9,135.1 334.2,133.7 334.4,132.3 334.7,133.9 334.9,132.2 335.2,131.5 335.4,133.2 335.7,133.7 336.0,132.3 336.2,130.8 336.5,130.0 336.7,130.7 337.0,131.2 337.2,133.2 337.5,134.7 337.7,135.5 338.0,134.9 338.3,133.7 338.5,133.3 338.8,134.0 339.0,132.6 339.3,133.0 339.5,133.9 339.8,133.2 340.0,130.9 340.3,132.2 340.6,134.0 340.8,133.4 341.1,131.3 341.3,132.1 341.6,130.9 341.8,131.3 342.1,133.7 342.3,131.4 342.6,131.7 342.9,132.0 343.1,128.8 343.4,121.8 343.6,111.0 343.9,96.9 344.1,84.6 344.3,80.9 344.4,79.4 344.6,89.5 344.9,104.8 345.2,116.3 345.4,123.5 345.7,128.2 345.9,129.9 346.2,130.7 346.4,131.0 346.7,131.8 346.9,134.1 347.2,133.3 347.5,133.0 347.7,135.3 348.0,134.5 348.2,132.0 348.5,133.6 348.7,133.6 349.0,132.8 349.2,133.6 349.5,134.2 349.8,133.9 350.0,133.8 350.3,133.7 350.5,132.4 350.8,131.1 351.0,131.5 351.3,130.9 351.5,131.3 351.8,131.6 352.1,132.2 352.3,133.0 352.6,132.6 352.8,132.9 353.1,133.8 353.3,132.4 353.6,132.0 353.9,132.6 354.1,134.4 354.4,135.5 354.6,132.4 354.9,133.4 355.1,135.1 355.4,133.4 355.6,133.3 355.9,132.6 356.2,132.5 356.4,131.8 356.7,132.3 356.9,132.6 357.2,132.4 357.4,132.1 357.7,133.6 357.9,132.0 358.2,132.1 358.5,133.4 358.7,133.4 359.0,133.5 359.2,132.8 359.5,132.3 359.7,133.2 360.0,132.2 360.2,131.6 360.5,131.5 360.8,131.2 361.0,132.3 361.3,131.5 361.5,130.2 361.8,132.2 362.0,133.2 362.3,132.9 362.5,132.6 362.8,133.6 363.1,134.1 363.3,135.4 363.6,135.1 363.8,134.9 364.1,134.8 364.3,133.7 364.6,132.6 364.8,133.6 365.1,134.5 365.4,133.1 365.6,133.2 365.9,134.4 366.1,133.7 366.4,134.3 366.6,134.3 366.9,133.7 367.1,132.6 367.4,133.6 367.7,133.5 367.9,132.4 368.2,131.2 368.4,131.5 368.7,133.0 368.9,131.7 369.2,131.5 369.4,130.8 369.7,131.0 370.0,132.2 370.2,131.6 370.5,130.2 370.7,126.8 371.0,121.8 371.2,118.1 371.5,112.6 371.7,106.5 371.9,107.7 372.0,108.2 372.3,111.6 372.5,117.6 372.8,121.4 373.0,125.1 373.3,129.1 373.5,131.1 373.8,132.6 374.0,134.1 374.3,133.3 374.6,134.2 374.8,134.0 375.1,132.3 375.3,132.0 375.6,133.0 375.8,131.3 376.1,130.5 376.3,132.1 376.6,132.9 376.9,132.9 377.1,133.6 377.4,133.8 377.6,132.3 377.9,132.2 378.1,133.4 378.4,133.8 378.6,134.0 378.9,134.3 379.2,134.8 379.4,134.6 379.7,132.7 379.9,133.1 380.2,132.4 380.4,131.3 380.7,132.7 380.9,133.1 381.2,134.5 381.5,133.9 381.7,132.6 382.0,133.6 382.2,135.2 382.5,135.1 382.7,133.6 383.0,133.7 383.2,132.6 383.5,132.7 383.8,133.3 384.0,133.0 384.3,132.3 384.5,133.1 384.8,133.9 385.0,133.2 385.3,133.4 385.5,133.2 385.8,132.4 386.1,132.2 386.3,132.0 386.6,133.1 386.8,133.7 387.1,133.5 387.3,133.1 387.6,133.9 387.8,134.0 388.1,134.4 388.4,134.3 388.6,132.7 388.9,130.8 389.1,132.6 389.4,132.9 389.6,133.0 389.9,133.2 390.1,132.4 390.4,131.1 390.7,132.1 390.9,131.3 391.2,132.2 391.4,134.0 391.7,134.2 391.9,134.2 392.2,134.0 392.5,132.1 392.7,132.1 393.0,132.7 393.2,133.8 393.5,133.1 393.7,132.6 394.0,130.8 394.2,132.2 394.5,132.7 394.8,132.7 395.0,133.6 395.3,133.8 395.5,133.3 395.8,132.6 396.0,133.6 396.3,133.4 396.5,132.9 396.8,133.9 397.1,135.0 397.3,134.9 397.6,134.3 397.8,133.9 398.1,132.4 398.3,132.7 398.6,133.5 398.8,134.0 399.1,133.0 399.4,133.6 399.6,134.4 399.9,133.3 400.1,131.1 400.4,133.2 400.6,133.8 400.9,131.9 401.1,132.0 401.4,132.7 401.7,132.3 401.9,134.3 402.2,134.7 402.4,134.5 402.7,132.2 402.9,131.7 403.2,130.3 403.4,131.6 403.7,132.8 404.0,134.5 404.2,134.9 404.5,133.7 404.7,132.7 405.0,134.7 405.2,135.7 405.5,132.8 405.7,132.2 406.0,133.7 406.3,132.7 406.5,131.5 406.8,132.1 407.0,134.4 407.3,133.9 407.5,133.7 407.8,132.5 408.0,133.2 408.3,134.4 408.6,133.3 408.8,133.1 409.1,135.1 409.3,135.4 409.6,134.5 409.8,134.0 410.1,134.6 410.3,135.9 410.6,135.5 410.9,133.7 411.1,133.2 411.4,134.0 411.6,132.8 411.9,131.3 412.1,133.0 412.4,134.0 412.6,134.0 412.9,132.9 413.2,132.8 413.4,133.0 413.7,133.4 413.9,132.8 414.2,132.7 414.4,132.8 414.7,132.6 414.9,134.2 415.2,133.0 415.5,132.8 415.7,131.7 416.0,130.9 416.2,132.5 416.5,133.3 416.7,132.8 417.0,131.2 417.2,131.0 417.5,132.2 417.8,131.8 418.0,130.8 418.3,132.4 418.5,134.8 418.8,134.6 419.0,133.7 419.3,133.0 419.5,133.1 419.8,132.0 420.1,132.5 420.3,131.8 420.6,132.7 420.8,131.8 421.1,131.9 421.3,130.8 421.6,129.9 421.8,130.2 422.1,131.6 422.4,133.7 422.6,135.2 422.9,136.1 423.1,132.1 423.4,130.8 423.6,131.9 423.9,132.9 424.1,130.7 424.4,132.4 424.7,132.9 424.9,134.6 425.2,133.7 425.4,131.5 425.7,131.8 425.9,133.8 426.2,133.0 426.4,132.4 426.7,134.2 427.0,133.3 427.2,134.1 427.5,132.9 427.7,132.7 428.0,132.2 428.2,133.3 428.5,133.7 428.7,133.8 429.0,134.2 429.3,134.0 429.5,134.4 429.8,133.7 430.0,132.6 430.3,132.7 430.5,131.8 430.8,131.6 431.1,132.3 431.3,133.8 431.6,132.5 431.8,131.0 432.1,131.1 432.3,130.9 432.6,131.5 432.8,133.9 433.1,132.7 433.4,132.3 433.6,133.5 433.9,134.4 434.1,133.3 434.4,132.4 434.6,130.5 434.9,131.0 435.1,133.3 435.4,134.5 435.7,134.2 435.9,133.5 436.2,133.0 436.4,131.5 436.7,133.5 436.9,133.3 437.2,132.5 437.4,132.6 437.7,133.7 438.0,133.2 438.2,132.4 438.5,132.3 438.7,133.0 439.0,132.6 439.2,131.0 439.5,129.6 439.7,130.8 440.0,128.4 440.3,126.5 440.5,126.6 440.8,122.9 441.0,120.7 441.3,120.4 441.5,119.0 441.6,120.1 441.8,120.1 442.0,121.4 442.3,123.7 442.6,124.9 442.8,125.3 443.1,125.6 443.3,125.1 443.6,127.2 443.8,128.4 444.1,126.8 444.3,126.5 444.6,127.8 444.9,129.4 445.1,130.9 445.4,130.9 445.6,129.4 445.9,130.1 446.1,131.4 446.4,131.8 446.6,132.9 446.9,133.7 447.2,133.4 447.4,133.4 447.7,134.9 447.9,135.4 448.2,135.2 448.4,133.6 448.7,132.8 448.9,134.4 449.2,135.1 449.5,135.1 449.7,134.3 450.0,134.6 450.2,134.8 450.5,133.6 450.7,131.0 451.0,132.4 451.2,133.8 451.5,133.3 451.8,131.8 452.0,131.5 452.3,133.0 452.5,134.5 452.8,132.2 453.0,131.2 453.3,131.5 453.5,132.1 453.8,132.2 454.1,131.7 454.3,132.4 454.6,132.0 454.8,133.1 455.1,133.5 455.3,133.6 455.6,133.7 455.8,133.2 456.1,131.5 456.4,130.9 456.6,133.0 456.9,133.1 457.1,131.1 457.4,131.4 457.6,131.0 457.9,130.2 458.1,129.7 458.4,130.2 458.7,128.6 458.9,129.1 459.2,131.6 459.4,130.5 459.7,129.6 459.9,128.7 460.2,128.7 460.4,128.8 460.7,127.5 461.0,125.9 461.2,125.1 461.5,123.8 461.7,121.2 462.0,122.3 462.2,123.3 462.5,123.4 462.7,123.7 463.0,125.4 463.3,125.9 463.5,128.0 463.8,129.9 464.0,128.5 464.3,128.2 464.5,129.2 464.8,130.8 465.0,131.7 465.3,131.4 465.6,131.0 465.8,130.5 466.1,130.3 466.3,131.3 466.6,132.8 466.8,133.3 467.1,133.8 467.4,132.1 467.6,131.3 467.9,130.9 468.1,131.0 468.4,130.9 468.6,132.5 468.9,132.3 469.1,132.5 469.4,133.1 469.7,134.2 469.9,133.7 470.2,133.4 470.4,130.8 470.7,127.5 470.9,122.7 471.2,117.2 471.4,108.5 471.7,101.5 472.0,97.8 472.2,99.2 472.5,106.4 472.7,115.2 473.0,119.9 473.2,125.6 473.5,131.9 473.7,132.5 474.0,132.5 474.3,132.7 474.5,133.4 474.8,133.1 475.0,133.5 475.3,135.2 475.5,133.0 475.8,131.2 476.0,131.8 476.3,131.0 476.6,130.7 476.8,131.9 477.1,132.2 477.3,132.5 477.6,132.4 477.8,130.5 478.1,131.5 478.3,131.9 478.6,131.2 478.9,131.5 479.1,134.2 479.4,134.5 479.6,133.0 479.9,132.8 480.1,134.5 480.4,134.6 480.6,132.4 480.9,132.1 481.2,133.2 481.4,133.6 481.7,134.2 481.9,134.8 482.2,134.3 482.4,133.2 482.7,132.9 482.9,132.6 483.2,134.7 483.5,135.1 483.7,133.4 484.0,134.0 484.2,133.8 484.5,133.6 484.7,135.0 485.0,135.1 485.2,134.4 485.5,135.7 485.8,134.1 486.0,134.5 486.3,132.8 486.5,132.5 486.8,132.6 487.0,132.5 487.3,133.3 487.5,134.3 487.8,132.7 488.1,132.6 488.3,132.6 488.6,133.2 488.8,133.1 489.1,131.9 489.3,131.7 489.6,133.0 489.8,134.6 490.1,134.9 490.4,134.1 490.6,132.1 490.9,132.1 491.1,132.8 491.4,133.4 491.6,133.5 491.9,132.7 492.1,134.0 492.4,133.8 492.7,132.0 492.9,131.8 493.2,133.0 493.4,134.4 493.7,134.0 493.9,131.7 494.2,130.6 494.4,129.6 494.7,130.0 495.0,129.1 495.2,126.9 495.5,123.2 495.7,122.5 496.0,118.8 496.2,116.7 496.3,118.5 496.5,120.8 496.7,122.1 497.0,124.1 497.3,125.0 497.5,127.4 497.8,130.1 498.0,130.5 498.3,129.9 498.5,131.8 498.8,132.1 499.0,130.9 499.3,133.0 499.6,133.0 499.8,131.3 500.1,132.9 500.3,135.1 500.6,135.2 500.8,135.8 501.1,134.2 501.3,133.4 501.6,134.0 501.9,131.4 502.1,130.8 502.4,131.9 502.6,133.4 502.9,132.9 503.1,132.0 503.4,131.2 503.6,132.0 503.9,135.0 504.2,134.8 504.4,134.5 504.7,133.5 504.9,131.9 505.2,130.3 505.4,131.6 505.7,131.6 506.0,131.9 506.2,131.2 506.5,129.6 506.7,130.2 507.0,127.1 507.2,122.3 507.5,119.4 507.7,121.2 508.0,122.0 508.1,120.7 508.3,121.5 508.5,122.3 508.8,124.0 509.0,125.6 509.3,128.6 509.5,130.7 509.8,133.3 510.0,133.4 510.3,133.6 510.6,135.1 510.8,133.1 511.1,131.8 511.3,132.4 511.6,132.6 511.8,133.2 512.1,134.2 512.3,133.5 512.6,133.5 512.9,133.0 513.1,132.8 513.4,133.3 513.6,134.4 513.9,132.9 514.1,130.8 514.4,131.4 514.6,133.2 514.9,133.5 515.2,132.2 515.4,133.3 515.7,135.0 515.9,133.5 516.2,131.9 516.4,134.1 516.7,133.7 516.9,133.7 517.2,133.4 517.5,133.7 517.7,134.8 518.0,135.9 518.2,133.8 518.5,132.6 518.7,132.7 519.0,133.1 519.2,131.0 519.5,127.5 519.8,127.6 520.0,125.6 520.3,123.0 520.5,119.5 520.8,116.9 520.9,117.0 521.0,117.2 521.3,119.5 521.5,121.8 521.8,124.6 522.1,127.7 522.3,129.4 522.6,130.0 522.8,132.2 523.1,133.0 523.3,133.8 523.6,133.1 523.8,131.7 524.1,132.9 524.4,131.9 524.6,130.4 524.9,131.7 525.1,133.3 525.4,134.8 525.6,136.4 525.9,135.3 526.1,134.1 526.4,132.2 526.7,132.5 526.9,134.1 527.2,133.2 527.4,133.0 527.7,130.9 527.9,130.7 528.2,132.1 528.4,132.7 528.7,131.1 529.0,131.1 529.2,131.4 529.5,132.2 529.7,132.9 530.0,132.6 530.2,133.4 530.5,132.4 530.7,133.2 531.0,134.6 531.3,133.1 531.5,133.1 531.8,133.5 532.0,133.0 532.3,132.7 532.5,134.4 532.8,134.4 533.0,132.6 533.3,133.3 533.6,134.8 533.8,134.2 534.1,134.6 534.3,132.9 534.6,132.4 534.8,133.1 535.1,134.9 535.3,134.2 535.6,133.0 535.9,134.2 536.1,133.2 536.4,133.2 536.6,133.4 536.9,133.8 537.1,132.7 537.4,132.3 537.6,131.3 537.9,130.2" fill="none" stroke="#0000ff" stroke-width="1.6" stroke-linejoin="round"/>
<polyline points="333.4,121.5 333.7,121.8 333.9,123.2 334.2,125.0 334.4,123.5 334.7,124.3 334.9,121.7 335.2,120.7 335.4,120.6 335.7,120.7 336.0,121.7 336.2,122.9 336.5,122.2 336.7,120.7 337.0,122.4 337.2,123.0 337.5,123.4 337.7,123.2 338.0,122.6 338.3,122.0 338.5,122.5 338.8,122.9 339.0,122.9 339.3,122.7 339.5,123.6 339.8,121.9 340.0,120.6 340.3,122.3 340.6,121.0 340.8,118.7 341.1,122.4 341.3,124.2 341.6,121.9 341.8,118.4 342.1,118.3 342.3,121.1 342.6,119.9 342.9,118.7 343.1,116.7 343.4,109.3 343.6,91.9 343.9,71.9 344.1,53.1 344.3,48.5 344.4,47.0 344.6,62.6 344.9,86.5 345.2,103.2 345.4,112.5 345.7,119.2 345.9,120.7 346.2,121.1 346.4,123.4 346.7,124.1 346.9,123.9 347.2,122.1 347.5,121.8 347.7,120.8 348.0,121.1 348.2,121.2 348.5,121.5 348.7,121.1 349.0,122.2 349.2,122.8 349.5,120.6 349.8,119.4 350.0,118.9 350.3,121.6 350.5,123.5 350.8,125.8 351.0,128.1 351.3,125.2 351.5,122.5 351.8,124.1 352.1,125.5 352.3,122.7 352.6,122.8 352.8,123.1 353.1,122.9 353.3,122.4 353.6,122.4 353.9,124.3 354.1,123.4 354.4,122.5 354.6,121.4 354.9,122.4 355.1,120.4 355.4,120.1 355.6,120.3 355.9,122.1 356.2,121.4 356.4,122.1 356.7,124.0 356.9,123.4 357.2,123.3 357.4,123.9 357.7,124.2 357.9,124.5 358.2,123.3 358.5,122.3 358.7,123.7 359.0,124.1 359.2,121.7 359.5,122.3 359.7,122.5 360.0,122.7 360.2,122.8 360.5,121.9 360.8,122.6 361.0,123.0 361.3,124.7 361.5,125.0 361.8,122.6 362.0,119.9 362.3,120.4 362.5,119.6 362.8,120.7 363.1,121.7 363.3,122.8 363.6,121.7 363.8,119.5 364.1,120.2 364.3,122.7 364.6,122.5 364.8,120.9 365.1,121.9 365.4,121.6 365.6,122.6 365.9,121.1 366.1,119.6 366.4,120.4 366.6,121.4 366.9,121.8 367.1,122.1 367.4,121.6 367.7,120.1 367.9,119.9 368.2,121.5 368.4,123.5 368.7,122.9 368.9,121.6 369.2,122.0 369.4,122.9 369.7,119.9 370.0,117.8 370.2,120.3 370.5,117.8 370.7,112.8 371.0,109.2 371.2,102.5 371.5,93.6 371.7,87.4 371.9,86.6 372.0,86.7 372.3,93.2 372.5,99.0 372.8,106.3 373.0,113.0 373.3,116.7 373.5,118.7 373.8,119.1 374.0,121.2 374.3,122.2 374.6,123.8 374.8,123.8 375.1,123.2 375.3,124.2 375.6,124.2 375.8,124.2 376.1,123.1 376.3,121.7 376.6,121.6 376.9,124.2 377.1,122.8 377.4,120.6 377.6,119.5 377.9,120.4 378.1,123.6 378.4,123.2 378.6,121.3 378.9,120.7 379.2,121.3 379.4,121.7 379.7,122.1 379.9,123.0 380.2,122.0 380.4,121.3 380.7,121.8 380.9,122.1 381.2,125.4 381.5,123.1 381.7,119.9 382.0,119.9 382.2,120.0 382.5,122.0 382.7,123.9 383.0,122.7 383.2,121.3 383.5,124.3 383.8,124.9 384.0,125.0 384.3,123.8 384.5,122.8 384.8,122.1 385.0,122.3 385.3,120.2 385.5,120.9 385.8,123.0 386.1,124.3 386.3,124.5 386.6,121.9 386.8,119.8 387.1,122.1 387.3,123.6 387.6,123.0 387.8,123.3 388.1,124.4 388.4,125.0 388.6,122.5 388.9,119.9 389.1,119.7 389.4,120.5 389.6,121.4 389.9,121.2 390.1,120.8 390.4,121.8 390.7,122.1 390.9,122.2 391.2,121.4 391.4,122.7 391.7,121.4 391.9,120.6 392.2,120.6 392.5,121.2 392.7,122.8 393.0,123.3 393.2,123.2 393.5,123.4 393.7,124.0 394.0,123.5 394.2,123.6 394.5,123.5 394.8,122.5 395.0,122.9 395.3,121.6 395.5,119.6 395.8,119.5 396.0,121.1 396.3,120.9 396.5,120.5 396.8,118.5 397.1,118.8 397.3,120.2 397.6,122.1 397.8,122.4 398.1,121.7 398.3,122.2 398.6,122.3 398.8,122.0 399.1,124.3 399.4,125.7 399.6,124.8 399.9,124.1 400.1,123.2 400.4,123.5 400.6,123.7 400.9,124.2 401.1,121.1 401.4,121.5 401.7,123.0 401.9,121.7 402.2,120.2 402.4,120.7 402.7,121.8 402.9,121.2 403.2,121.4 403.4,124.0 403.7,124.8 404.0,123.2 404.2,120.7 404.5,120.0 404.7,120.9 405.0,119.9 405.2,120.4 405.5,122.2 405.7,123.5 406.0,123.3 406.3,121.8 406.5,120.1 406.8,121.2 407.0,124.0 407.3,124.0 407.5,121.7 407.8,122.1 408.0,123.1 408.3,121.2 408.6,119.9 408.8,120.6 409.1,121.2 409.3,120.7 409.6,122.4 409.8,123.5 410.1,122.9 410.3,119.4 410.6,118.8 410.9,121.2 411.1,121.3 411.4,121.0 411.6,120.4 411.9,120.1 412.1,120.9 412.4,122.3 412.6,123.3 412.9,124.8 413.2,126.0 413.4,123.8 413.7,123.3 413.9,122.6 414.2,122.8 414.4,123.8 414.7,123.1 414.9,121.9 415.2,122.2 415.5,123.6 415.7,123.3 416.0,121.7 416.2,121.6 416.5,121.8 416.7,122.0 417.0,121.3 417.2,120.8 417.5,119.2 417.8,122.1 418.0,122.6 418.3,120.5 418.5,122.0 418.8,123.1 419.0,123.0 419.3,124.8 419.5,122.6 419.8,121.9 420.1,122.2 420.3,122.6 420.6,120.8 420.8,121.3 421.1,122.0 421.3,122.1 421.6,123.2 421.8,123.4 422.1,124.6 422.4,124.1 422.6,122.3 422.9,121.7 423.1,121.5 423.4,122.8 423.6,122.9 423.9,123.0 424.1,121.9 424.4,120.7 424.7,120.4 424.9,121.4 425.2,122.9 425.4,122.7 425.7,124.2 425.9,125.0 426.2,122.8 426.4,121.8 426.7,121.0 427.0,121.4 427.2,123.8 427.5,123.9 427.7,122.6 428.0,122.0 428.2,122.3 428.5,123.8 428.7,122.8 429.0,120.8 429.3,120.2 429.5,122.4 429.8,120.9 430.0,122.5 430.3,123.6 430.5,121.6 430.8,123.5 431.1,123.8 431.3,121.4 431.6,120.6 431.8,122.0 432.1,123.7 432.3,124.3 432.6,123.7 432.8,125.7 433.1,124.6 433.4,121.3 433.6,120.5 433.9,120.3 434.1,121.7 434.4,123.3 434.6,122.8 434.9,124.0 435.1,121.5 435.4,120.6 435.7,122.4 435.9,121.3 436.2,121.7 436.4,123.1 436.7,124.7 436.9,122.7 437.2,121.7 437.4,124.0 437.7,123.5 438.0,123.6 438.2,123.7 438.5,121.0 438.7,121.0 439.0,120.7 439.2,119.7 439.5,119.0 439.7,115.2 440.0,116.9 440.3,116.6 440.5,112.4 440.8,110.0 441.0,109.3 441.3,107.1 441.5,104.1 441.6,104.5 441.8,103.9 442.0,104.9 442.3,107.5 442.6,108.2 442.8,110.4 443.1,112.1 443.3,114.1 443.6,113.5 443.8,112.8 444.1,111.7 444.3,113.9 444.6,114.0 444.9,114.9 445.1,115.6 445.4,117.7 445.6,119.9 445.9,123.4 446.1,122.9 446.4,120.3 446.6,120.2 446.9,120.6 447.2,121.4 447.4,121.1 447.7,122.0 447.9,121.6 448.2,120.0 448.4,120.3 448.7,122.0 448.9,122.0 449.2,121.7 449.5,122.1 449.7,122.6 450.0,123.0 450.2,122.1 450.5,123.5 450.7,123.1 451.0,120.1 451.2,118.5 451.5,118.9 451.8,121.1 452.0,122.2 452.3,120.7 452.5,119.8 452.8,121.4 453.0,123.2 453.3,124.9 453.5,124.1 453.8,121.2 454.1,123.4 454.3,123.5 454.6,122.5 454.8,122.3 455.1,123.2 455.3,121.5 455.6,120.9 455.8,121.7 456.1,122.6 456.4,123.1 456.6,123.6 456.9,121.3 457.1,121.6 457.4,122.1 457.6,120.1 457.9,118.3 458.1,117.6 458.4,116.6 458.7,116.1 458.9,117.5 459.2,117.2 459.4,117.4 459.7,118.2 459.9,115.9 460.2,115.7 460.4,114.6 460.7,113.7 461.0,113.1 461.2,110.2 461.5,108.5 461.7,109.7 462.0,111.4 462.2,108.1 462.5,108.4 462.7,110.3 463.0,111.6 463.3,113.2 463.5,113.5 463.8,114.1 464.0,116.7 464.3,117.3 464.5,118.7 464.8,119.6 465.0,120.1 465.3,119.6 465.6,119.3 465.8,120.2 466.1,119.5 466.3,119.8 466.6,122.4 466.8,121.3 467.1,121.7 467.4,121.6 467.6,120.6 467.9,121.8 468.1,122.0 468.4,119.8 468.6,119.5 468.9,119.3 469.1,118.0 469.4,121.9 469.7,123.4 469.9,121.9 470.2,120.9 470.4,118.0 470.7,114.9 470.9,109.0 471.2,99.8 471.4,90.8 471.7,83.1 472.0,76.6 472.2,79.4 472.5,88.0 472.7,97.3 473.0,105.2 473.2,112.4 473.5,117.8 473.7,120.4 474.0,119.6 474.3,118.2 474.5,118.4 474.8,120.0 475.0,121.9 475.3,121.0 475.5,120.1 475.8,120.5 476.0,123.2 476.3,123.2 476.6,122.0 476.8,122.0 477.1,122.5 477.3,121.8 477.6,121.7 477.8,121.0 478.1,122.1 478.3,122.9 478.6,124.5 478.9,123.0 479.1,122.6 479.4,121.6 479.6,121.5 479.9,120.9 480.1,122.9 480.4,124.0 480.6,122.2 480.9,121.6 481.2,123.4 481.4,123.8 481.7,121.3 481.9,120.3 482.2,120.8 482.4,121.8 482.7,121.5 482.9,119.8 483.2,120.9 483.5,123.4 483.7,123.6 484.0,121.6 484.2,121.3 484.5,123.0 484.7,123.0 485.0,121.4 485.2,121.8 485.5,121.7 485.8,123.6 486.0,124.6 486.3,124.7 486.5,123.1 486.8,123.4 487.0,124.4 487.3,122.9 487.5,122.9 487.8,122.1 488.1,120.2 488.3,120.2 488.6,121.3 488.8,122.9 489.1,124.1 489.3,123.6 489.6,122.4 489.8,121.1 490.1,123.0 490.4,123.2 490.6,122.2 490.9,121.2 491.1,120.1 491.4,120.1 491.6,120.9 491.9,119.5 492.1,120.8 492.4,123.1 492.7,123.7 492.9,123.0 493.2,122.1 493.4,121.3 493.7,122.6 493.9,122.9 494.2,122.3 494.4,121.1 494.7,121.0 495.0,118.4 495.2,117.1 495.5,114.5 495.7,111.2 496.0,108.2 496.2,105.7 496.3,109.0 496.5,112.6 496.7,112.6 497.0,112.5 497.3,115.4 497.5,116.2 497.8,118.2 498.0,119.7 498.3,121.9 498.5,120.1 498.8,120.1 499.0,121.9 499.3,119.5 499.6,118.1 499.8,121.3 500.1,123.4 500.3,123.3 500.6,122.2 500.8,120.2 501.1,119.6 501.3,121.9 501.6,123.1 501.9,124.1 502.1,123.1 502.4,122.6 502.6,124.1 502.9,121.7 503.1,120.2 503.4,120.5 503.6,122.9 503.9,124.4 504.2,123.5 504.4,124.2 504.7,124.9 504.9,124.2 505.2,123.2 505.4,119.7 505.7,119.6 506.0,120.5 506.2,121.5 506.5,119.2 506.7,118.7 507.0,117.0 507.2,116.0 507.5,113.4 507.7,113.0 508.0,111.0 508.1,110.1 508.3,112.0 508.5,112.5 508.8,114.7 509.0,116.5 509.3,116.8 509.5,117.7 509.8,119.8 510.0,119.3 510.3,119.5 510.6,119.8 510.8,120.2 511.1,122.6 511.3,120.8 511.6,121.2 511.8,122.4 512.1,122.0 512.3,120.4 512.6,119.9 512.9,121.2 513.1,123.8 513.4,124.4 513.6,122.4 513.9,121.6 514.1,122.3 514.4,121.1 514.6,120.8 514.9,121.6 515.2,122.3 515.4,120.5 515.7,119.8 515.9,119.8 516.2,121.5 516.4,123.3 516.7,121.7 516.9,120.8 517.2,122.2 517.5,123.2 517.7,121.4 518.0,121.3 518.2,123.3 518.5,123.5 518.7,123.1 519.0,120.7 519.2,118.5 519.5,116.1 519.8,115.5 520.0,111.5 520.3,109.1 520.5,107.0 520.8,106.7 520.9,105.3 521.0,106.3 521.3,107.9 521.5,110.2 521.8,112.7 522.1,115.2 522.3,118.6 522.6,120.7 522.8,119.9 523.1,121.1 523.3,121.8 523.6,120.2 523.8,120.7 524.1,121.6 524.4,124.0 524.6,122.7 524.9,119.6 525.1,120.4 525.4,121.6 525.6,122.8 525.9,122.4 526.1,121.8 526.4,122.1 526.7,123.1 526.9,124.7 527.2,124.1 527.4,122.9 527.7,121.5 527.9,121.3 528.2,122.3 528.4,123.4 528.7,123.3 529.0,122.8 529.2,123.9 529.5,123.2 529.7,122.8 530.0,122.0 530.2,120.4 530.5,121.4 530.7,120.6 531.0,119.7 531.3,121.0 531.5,122.6 531.8,123.2 532.0,121.3 532.3,123.8 532.5,124.8 532.8,122.4 533.0,124.2 533.3,124.7 533.6,124.2 533.8,125.0 534.1,125.4 534.3,122.8 534.6,121.4 534.8,121.2 535.1,122.3 535.3,123.1 535.6,122.7 535.9,120.7 536.1,121.0 536.4,122.5 536.6,122.7 536.9,123.5 537.1,122.7 537.4,123.6 537.6,123.1 537.9,122.7" fill="none" stroke="#ff00ff" stroke-width="1.6" stroke-linejoin="round"/>
<polyline points="333.4,109.2 333.7,110.5 333.9,112.4 334.2,111.9 334.4,111.6 334.7,111.2 334.9,110.9 335.2,111.9 335.4,110.8 335.7,112.1 336.0,111.3 336.2,109.7 336.5,110.1 336.7,110.8 337.0,108.9 337.2,110.1 337.5,111.9 337.7,111.6 338.0,111.7 338.3,111.2 338.5,112.1 338.8,111.5 339.0,112.3 339.3,110.0 339.5,109.4 339.8,109.2 340.0,111.8 340.3,114.0 340.6,113.2 340.8,110.5 341.1,107.8 341.3,108.1 341.6,108.5 341.8,110.6 342.1,110.7 342.3,109.2 342.6,107.2 342.9,106.9 343.1,102.0 343.4,90.2 343.6,73.1 343.9,47.5 344.1,25.2 344.3,17.9 344.4,17.9 344.6,36.5 344.9,66.7 345.2,89.9 345.4,99.1 345.7,103.4 345.9,107.9 346.2,108.8 346.4,110.1 346.7,113.4 346.9,114.1 347.2,111.0 347.5,110.2 347.7,112.0 348.0,111.3 348.2,110.1 348.5,107.1 348.7,103.8 349.0,104.2 349.2,108.4 349.5,110.7 349.8,111.1 350.0,110.6 350.3,111.2 350.5,111.2 350.8,111.6 351.0,110.9 351.3,110.9 351.5,111.0 351.8,113.0 352.1,113.1 352.3,112.2 352.6,109.9 352.8,111.2 353.1,112.1 353.3,113.7 353.6,113.7 353.9,113.7 354.1,112.4 354.4,111.8 354.6,110.0 354.9,111.2 355.1,110.4 355.4,110.8 355.6,111.0 355.9,112.2 356.2,111.7 356.4,111.8 356.7,112.0 356.9,111.5 357.2,112.9 357.4,112.1 357.7,111.5 357.9,111.7 358.2,112.4 358.5,111.3 358.7,112.3 359.0,112.7 359.2,112.8 359.5,112.0 359.7,109.7 360.0,108.6 360.2,112.9 360.5,110.8 360.8,109.1 361.0,108.9 361.3,110.1 361.5,109.8 361.8,108.7 362.0,110.2 362.3,110.9 362.5,110.9 362.8,109.8 363.1,109.1 363.3,111.0 363.6,111.0 363.8,113.3 364.1,111.6 364.3,110.9 364.6,109.3 364.8,109.2 365.1,109.5 365.4,109.9 365.6,111.2 365.9,113.3 366.1,112.0 366.4,112.1 366.6,110.5 366.9,111.3 367.1,111.4 367.4,111.5 367.7,110.9 367.9,110.4 368.2,110.6 368.4,111.4 368.7,109.7 368.9,111.3 369.2,112.2 369.4,113.5 369.7,110.3 370.0,107.5 370.2,106.1 370.5,104.4 370.7,100.7 371.0,94.9 371.2,85.2 371.5,74.2 371.7,66.4 371.9,64.4 372.0,65.4 372.3,70.2 372.5,80.4 372.8,91.5 373.0,100.2 373.3,104.5 373.5,106.6 373.8,107.1 374.0,108.8 374.3,109.5 374.6,110.9 374.8,109.5 375.1,111.7 375.3,111.6 375.6,111.6 375.8,111.9 376.1,111.9 376.3,111.8 376.6,111.1 376.9,110.3 377.1,109.1 377.4,108.5 377.6,108.3 377.9,110.2 378.1,111.1 378.4,108.5 378.6,110.6 378.9,113.8 379.2,111.4 379.4,111.4 379.7,112.5 379.9,112.3 380.2,111.8 380.4,112.2 380.7,111.4 380.9,111.5 381.2,111.4 381.5,110.7 381.7,110.0 382.0,109.0 382.2,110.4 382.5,112.3 382.7,111.0 383.0,108.5 383.2,108.8 383.5,111.3 383.8,111.0 384.0,111.7 384.3,112.4 384.5,114.0 384.8,114.1 385.0,112.2 385.3,110.9 385.5,110.9 385.8,112.3 386.1,111.9 386.3,111.3 386.6,112.6 386.8,115.3 387.1,113.7 387.3,111.4 387.6,110.9 387.8,111.8 388.1,111.7 388.4,114.1 388.6,111.3 388.9,111.7 389.1,112.0 389.4,113.0 389.6,113.4 389.9,112.2 390.1,111.9 390.4,112.4 390.7,111.0 390.9,111.6 391.2,111.8 391.4,112.5 391.7,112.5 391.9,112.3 392.2,112.8 392.5,111.7 392.7,112.6 393.0,111.9 393.2,112.8 393.5,112.5 393.7,111.9 394.0,109.5 394.2,109.0 394.5,111.1 394.8,110.9 395.0,110.6 395.3,110.0 395.5,109.0 395.8,108.7 396.0,111.3 396.3,113.3 396.5,111.4 396.8,111.6 397.1,111.2 397.3,109.3 397.6,108.9 397.8,110.1 398.1,109.6 398.3,109.9 398.6,110.2 398.8,110.6 399.1,109.9 399.4,111.5 399.6,111.1 399.9,110.5 400.1,112.0 400.4,111.1 400.6,110.2 400.9,109.4 401.1,109.7 401.4,112.8 401.7,110.8 401.9,110.0 402.2,109.4 402.4,110.2 402.7,112.1 402.9,112.7 403.2,112.3 403.4,110.4 403.7,111.4 404.0,111.3 404.2,112.3 404.5,114.1 404.7,112.7 405.0,111.1 405.2,109.7 405.5,111.5 405.7,113.1 406.0,112.2 406.3,110.3 406.5,110.0 406.8,110.1 407.0,110.6 407.3,111.7 407.5,110.4 407.8,111.4 408.0,114.0 408.3,112.4 408.6,110.2 408.8,111.6 409.1,112.0 409.3,111.3 409.6,111.1 409.8,111.0 410.1,110.9 410.3,112.6 410.6,113.4 410.9,111.9 411.1,110.9 411.4,109.2 411.6,108.0 411.9,109.3 412.1,109.1 412.4,108.3 412.6,109.1 412.9,110.3 413.2,112.1 413.4,112.3 413.7,112.4 413.9,111.5 414.2,109.7 414.4,109.8 414.7,111.7 414.9,113.6 415.2,111.1 415.5,110.7 415.7,112.3 416.0,111.6 416.2,111.2 416.5,111.3 416.7,114.0 417.0,113.1 417.2,110.5 417.5,112.3 417.8,112.8 418.0,112.0 418.3,110.5 418.5,109.5 418.8,110.4 419.0,109.9 419.3,110.5 419.5,111.0 419.8,108.9 420.1,109.3 420.3,111.2 420.6,111.9 420.8,113.2 421.1,113.8 421.3,111.6 421.6,111.0 421.8,114.6 422.1,112.3 422.4,108.1 422.6,108.6 422.9,111.8 423.1,111.7 423.4,110.0 423.6,111.7 423.9,111.8 424.1,111.8 424.4,110.6 424.7,109.7 424.9,109.0 425.2,112.1 425.4,113.5 425.7,111.9 425.9,110.8 426.2,110.1 426.4,108.1 426.7,110.6 427.0,111.0 427.2,109.1 427.5,108.3 427.7,109.7 428.0,110.5 428.2,112.6 428.5,112.5 428.7,110.6 429.0,109.5 429.3,109.6 429.5,109.6 429.8,109.6 430.0,110.7 430.3,111.4 430.5,111.8 430.8,112.9 431.1,112.5 431.3,111.8 431.6,109.3 431.8,107.0 432.1,107.9 432.3,108.2 432.6,111.1 432.8,111.6 433.1,110.5 433.4,108.3 433.6,107.1 433.9,108.3 434.1,109.4 434.4,110.2 434.6,110.8 434.9,109.8 435.1,109.6 435.4,110.4 435.7,111.3 435.9,110.5 436.2,110.7 436.4,110.8 436.7,109.1 436.9,109.5 437.2,109.9 437.4,111.4 437.7,111.3 438.0,111.5 438.2,111.4 438.5,110.0 438.7,110.1 439.0,110.8 439.2,109.5 439.5,107.3 439.7,104.7 440.0,101.9 440.3,102.3 440.5,96.8 440.8,92.2 441.0,89.7 441.3,88.6 441.5,88.1 441.6,86.8 441.8,86.6 442.0,88.3 442.3,90.2 442.6,91.2 442.8,95.6 443.1,97.2 443.3,97.6 443.6,98.8 443.8,99.0 444.1,99.5 444.3,100.8 444.6,103.7 444.9,104.7 445.1,103.3 445.4,104.7 445.6,107.2 445.9,108.2 446.1,107.2 446.4,109.3 446.6,110.4 446.9,109.2 447.2,110.9 447.4,110.8 447.7,110.5 447.9,111.3 448.2,110.1 448.4,109.4 448.7,109.5 448.9,109.5 449.2,108.3 449.5,109.8 449.7,110.6 450.0,110.2 450.2,111.7 450.5,113.0 450.7,110.5 451.0,112.8 451.2,113.3 451.5,110.9 451.8,110.5 452.0,108.8 452.3,108.1 452.5,108.6 452.8,110.0 453.0,110.5 453.3,111.4 453.5,109.9 453.8,110.1 454.1,110.4 454.3,110.1 454.6,109.9 454.8,109.4 455.1,109.1 455.3,110.1 455.6,111.3 455.8,111.2 456.1,108.4 456.4,108.9 456.6,110.6 456.9,111.3 457.1,109.5 457.4,109.8 457.6,108.3 457.9,107.2 458.1,105.7 458.4,106.7 458.7,108.2 458.9,108.9 459.2,106.4 459.4,103.5 459.7,104.3 459.9,104.6 460.2,102.9 460.4,102.9 460.7,101.4 461.0,102.2 461.2,100.8 461.5,97.8 461.7,97.7 462.0,95.3 462.2,95.7 462.5,94.1 462.7,96.9 463.0,97.9 463.3,97.8 463.5,100.9 463.8,102.7 464.0,104.5 464.3,104.3 464.5,106.3 464.8,108.5 465.0,108.8 465.3,109.5 465.6,109.1 465.8,109.6 466.1,106.3 466.3,106.8 466.6,111.1 466.8,110.6 467.1,111.2 467.4,111.9 467.6,111.3 467.9,109.5 468.1,111.0 468.4,109.4 468.6,110.9 468.9,109.4 469.1,109.7 469.4,110.5 469.7,110.6 469.9,109.2 470.2,106.4 470.4,103.4 470.7,101.4 470.9,92.1 471.2,80.2 471.4,67.0 471.7,54.3 472.0,49.0 472.2,55.1 472.5,66.8 472.7,79.9 473.0,92.0 473.2,100.0 473.5,105.6 473.7,107.2 474.0,107.7 474.3,108.3 474.5,109.0 474.8,109.7 475.0,110.4 475.3,111.2 475.5,111.1 475.8,110.9 476.0,111.4 476.3,109.5 476.6,111.5 476.8,110.7 477.1,108.3 477.3,107.6 477.6,108.9 477.8,110.7 478.1,112.0 478.3,110.7 478.6,111.3 478.9,112.5 479.1,111.1 479.4,109.2 479.6,109.2 479.9,109.4 480.1,109.1 480.4,109.4 480.6,110.0 480.9,110.6 481.2,110.6 481.4,111.2 481.7,111.8 481.9,111.1 482.2,108.7 482.4,108.8 482.7,109.3 482.9,110.1 483.2,110.5 483.5,111.5 483.7,111.2 484.0,109.0 484.2,108.7 484.5,112.5 484.7,112.7 485.0,112.5 485.2,112.9 485.5,112.3 485.8,112.2 486.0,112.3 486.3,111.7 486.5,112.3 486.8,109.7 487.0,109.7 487.3,111.6 487.5,112.8 487.8,112.5 488.1,110.6 488.3,108.5 488.6,108.4 488.8,109.7 489.1,111.8 489.3,111.1 489.6,109.9 489.8,109.9 490.1,110.3 490.4,111.0 490.6,111.3 490.9,110.9 491.1,110.5 491.4,110.2 491.6,109.6 491.9,110.2 492.1,108.1 492.4,109.1 492.7,110.1 492.9,109.2 493.2,110.0 493.4,112.2 493.7,110.7 493.9,108.4 494.2,108.1 494.4,107.0 494.7,107.5 495.0,106.1 495.2,104.0 495.5,101.1 495.7,99.0 496.0,96.3 496.2,93.7 496.3,94.7 496.5,95.1 496.7,94.5 497.0,95.3 497.3,98.5 497.5,102.6 497.8,106.3 498.0,107.6 498.3,107.8 498.5,109.9 498.8,112.0 499.0,110.9 499.3,111.8 499.6,113.9 499.8,112.0 500.1,111.1 500.3,110.3 500.6,109.8 500.8,108.5 501.1,108.8 501.3,111.3 501.6,112.5 501.9,110.7 502.1,108.9 502.4,110.1 502.6,110.4 502.9,110.1 503.1,110.8 503.4,111.1 503.6,111.0 503.9,111.3 504.2,111.5 504.4,109.5 504.7,110.8 504.9,110.1 505.2,110.7 505.4,109.5 505.7,109.5 506.0,108.5 506.2,106.8 506.5,107.6 506.7,108.4 507.0,107.4 507.2,106.1 507.5,103.5 507.7,100.0 508.0,97.1 508.1,97.4 508.3,97.5 508.5,100.5 508.8,103.5 509.0,105.5 509.3,107.5 509.5,107.5 509.8,106.5 510.0,108.4 510.3,109.0 510.6,110.3 510.8,112.3 511.1,112.1 511.3,110.2 511.6,110.4 511.8,110.5 512.1,112.1 512.3,112.7 512.6,110.9 512.9,111.3 513.1,112.4 513.4,110.3 513.6,109.0 513.9,110.3 514.1,110.9 514.4,111.5 514.6,111.3 514.9,110.0 515.2,109.3 515.4,110.7 515.7,111.7 515.9,111.9 516.2,110.7 516.4,110.0 516.7,111.3 516.9,111.9 517.2,109.6 517.5,109.5 517.7,110.4 518.0,108.8 518.2,109.5 518.5,110.0 518.7,109.7 519.0,107.0 519.2,105.2 519.5,104.4 519.8,100.6 520.0,97.1 520.3,91.2 520.5,84.6 520.8,80.0 520.9,80.4 521.0,81.0 521.3,85.1 521.5,90.3 521.8,96.9 522.1,100.9 522.3,105.4 522.6,106.4 522.8,106.2 523.1,107.3 523.3,108.1 523.6,109.9 523.8,113.3 524.1,112.0 524.4,109.9 524.6,110.7 524.9,111.4 525.1,109.9 525.4,109.4 525.6,110.8 525.9,110.2 526.1,109.9 526.4,109.2 526.7,108.5 526.9,109.8 527.2,108.8 527.4,108.7 527.7,111.7 527.9,111.6 528.2,111.2 528.4,110.5 528.7,111.5 529.0,111.1 529.2,110.0 529.5,111.1 529.7,112.6 530.0,112.5 530.2,112.6 530.5,112.3 530.7,109.7 531.0,109.1 531.3,110.6 531.5,108.4 531.8,110.1 532.0,113.5 532.3,114.3 532.5,112.7 532.8,110.7 533.0,112.8 533.3,112.4 533.6,110.1 533.8,111.0 534.1,111.7 534.3,113.1 534.6,112.1 534.8,112.6 535.1,113.1 535.3,113.0 535.6,112.5 535.9,114.7 536.1,111.8 536.4,109.3 536.6,110.3 536.9,112.6 537.1,110.6 537.4,109.7 537.6,110.0 537.9,111.4" fill="none" stroke="#008000" stroke-width="1.6" stroke-linejoin="round"/>
</g>
<rect x="333.4" y="9.1" width="204.5" height="152.7" fill="none" stroke="#111" stroke-width="1.5"/>
<path d="M341.92,161.8v3.9M376,161.8v3.9M410.09,161.8v3.9M444.17,161.8v3.9M478.26,161.8v3.9M512.34,161.8v3.9M358.96,161.8v2.2M393.05,161.8v2.2M427.13,161.8v2.2M461.21,161.8v2.2M495.3,161.8v2.2M529.38,161.8v2.2" stroke="#111" stroke-width="1.2" fill="none"/>
<path d="M333.4,151.62h3.6M333.4,131.26h3.6M333.4,110.9h3.6M333.4,90.54h3.6M333.4,70.18h3.6M333.4,49.82h3.6M333.4,29.46h3.6M333.4,141.44h2.0M333.4,121.08h2.0M333.4,100.72h2.0M333.4,80.36h2.0M333.4,60h2.0M333.4,39.64h2.0M333.4,19.28h2.0" stroke="#111" stroke-width="1.2" fill="none"/>
<text x="341.92" y="177" font-size="11" text-anchor="middle" >600</text>
<text x="376" y="177" font-size="11" text-anchor="middle" >800</text>
<text x="410.09" y="177" font-size="11" text-anchor="middle" >1000</text>
<text x="444.17" y="177" font-size="11" text-anchor="middle" >1200</text>
<text x="478.26" y="177" font-size="11" text-anchor="middle" >1400</text>
<text x="512.34" y="177" font-size="11" text-anchor="middle" >1600</text>
<text x="329.4" y="155.12" font-size="11" text-anchor="end" >0</text>
<text x="329.4" y="134.76" font-size="11" text-anchor="end" >200</text>
<text x="329.4" y="114.4" font-size="11" text-anchor="end" >400</text>
<text x="329.4" y="94.04" font-size="11" text-anchor="end" >600</text>
<text x="329.4" y="73.68" font-size="11" text-anchor="end" >800</text>
<text x="329.4" y="53.32" font-size="11" text-anchor="end" >1000</text>
<text x="329.4" y="32.96" font-size="11" text-anchor="end" >1200</text>
<text x="350.3" y="21.5" font-size="11" text-anchor="start" >614</text>
<text x="360.1" y="58" font-size="11" text-anchor="start" >776</text>
<text x="460.9" y="43.2" font-size="11" text-anchor="start" >1363</text>
<text x="429.1" y="84.7" font-size="11" text-anchor="start" >1185</text>
<text x="446.4" y="96.7" font-size="11" text-anchor="start" >1306</text>
<text x="475.3" y="90.3" font-size="11" text-anchor="start" >1506</text>
<text x="498.1" y="97.4" font-size="11" text-anchor="start" >1575</text>
<text x="510.1" y="75.5" font-size="11" text-anchor="start" >1650</text>
<line x1="384" y1="20.5" x2="404.7" y2="20.5" stroke="#000000" stroke-width="1.3"/>
<text x="407.7" y="23.9" font-size="11" text-anchor="start" >10</text>
<text x="420.2" y="18.7" font-size="5.8" text-anchor="start" >-8</text>
<line x1="384" y1="36.3" x2="404.7" y2="36.3" stroke="#ff0000" stroke-width="1.3"/>
<text x="407.7" y="39.7" font-size="11" text-anchor="start" >10</text>
<text x="420.2" y="34.5" font-size="5.8" text-anchor="start" >-7</text>
<line x1="384" y1="51.8" x2="404.7" y2="51.8" stroke="#0000ff" stroke-width="1.3"/>
<text x="407.7" y="55.2" font-size="11" text-anchor="start" >10</text>
<text x="420.2" y="50" font-size="5.8" text-anchor="start" >-6</text>
<line x1="384" y1="67.5" x2="404.7" y2="67.5" stroke="#ff00ff" stroke-width="1.3"/>
<text x="407.7" y="70.9" font-size="11" text-anchor="start" >10</text>
<text x="420.2" y="65.7" font-size="5.8" text-anchor="start" >-5</text>
<line x1="384" y1="82.6" x2="404.7" y2="82.6" stroke="#008000" stroke-width="1.3"/>
<text x="407.7" y="86" font-size="11" text-anchor="start" >10</text>
<text x="420.2" y="80.8" font-size="5.8" text-anchor="start" >-4</text>
<text x="0" y="0" font-size="14.6" transform="translate(298.7,139.2) rotate(-90)">Intensity (a.u.)</text>
<text x="379.4" y="194.6" font-size="14.6">Raman shift (cm<tspan font-size="7.8" dy="-7.4">-1</tspan><tspan dy="7.4">)</tspan></text>
<text x="285.2" y="18.9" font-size="16" text-anchor="start" >(b)</text>
<rect x="57.6" y="223.4" width="204.1" height="153.5" fill="none" stroke="#111" stroke-width="1.5"/>
<path d="M57.6,376.9v3.9M80.28,376.9v3.9M102.96,376.9v3.9M125.63,376.9v3.9M148.31,376.9v3.9M170.99,376.9v3.9M193.67,376.9v3.9M216.34,376.9v3.9M239.02,376.9v3.9M261.7,376.9v3.9M68.94,376.9v2.2M91.62,376.9v2.2M114.29,376.9v2.2M136.97,376.9v2.2M159.65,376.9v2.2M182.33,376.9v2.2M205.01,376.9v2.2M227.68,376.9v2.2M250.36,376.9v2.2" stroke="#111" stroke-width="1.2" fill="none"/>
<path d="M57.6,376.9h3.6M57.6,342.79h3.6M57.6,308.68h3.6M57.6,274.57h3.6M57.6,240.46h3.6M57.6,359.84h2.0M57.6,325.73h2.0M57.6,291.62h2.0M57.6,257.51h2.0" stroke="#111" stroke-width="1.2" fill="none"/>
<text x="57.6" y="391.8" font-size="11" text-anchor="middle" >0</text>
<text x="80.28" y="391.8" font-size="11" text-anchor="middle" >1</text>
<text x="102.96" y="391.8" font-size="11" text-anchor="middle" >2</text>
<text x="125.63" y="391.8" font-size="11" text-anchor="middle" >3</text>
<text x="148.31" y="391.8" font-size="11" text-anchor="middle" >4</text>
<text x="170.99" y="391.8" font-size="11" text-anchor="middle" >5</text>
<text x="193.67" y="391.8" font-size="11" text-anchor="middle" >6</text>
<text x="216.34" y="391.8" font-size="11" text-anchor="middle" >7</text>
<text x="239.02" y="391.8" font-size="11" text-anchor="middle" >8</text>
<text x="261.7" y="391.8" font-size="11" text-anchor="middle" >9</text>
<text x="53.6" y="380.4" font-size="11" text-anchor="end" >0</text>
<text x="53.6" y="346.29" font-size="11" text-anchor="end" >200</text>
<text x="53.6" y="312.18" font-size="11" text-anchor="end" >400</text>
<text x="53.6" y="278.07" font-size="11" text-anchor="end" >600</text>
<text x="53.6" y="243.96" font-size="11" text-anchor="end" >800</text>
<line x1="80.28" y1="246.43" x2="239.02" y2="341.17" stroke="#ff0000" stroke-width="1.6"/>
<rect x="78.38" y="244.01" width="3.8" height="3.8" fill="#ff0000"/>
<rect x="101.06" y="259.88" width="3.8" height="3.8" fill="#ff0000"/>
<rect x="169.09" y="299.27" width="3.8" height="3.8" fill="#ff0000"/>
<rect x="191.77" y="307.63" width="3.8" height="3.8" fill="#ff0000"/>
<rect x="237.12" y="341.91" width="3.8" height="3.8" fill="#ff0000"/>
<rect x="144.8" y="232.2" width="3.8" height="3.8" fill="#ff0000"/>
<line x1="137" y1="248.5" x2="156.1" y2="248.5" stroke="#ff0000" stroke-width="1.6"/>
<text x="158.1" y="237.2" font-size="11.3" text-anchor="start" >Experiment values</text>
<text x="158.9" y="251.3" font-size="11.3" text-anchor="start" >Fitted curve</text>
<text x="148.5" y="342" font-size="11.3" text-anchor="start" >R<tspan font-size="6.6" dy="-4.9">2</tspan><tspan dy="4.9">=0.993</tspan></text>
<text x="0" y="0" font-size="14.6" transform="translate(29,358.6) rotate(-90)">Intensity (a.u.)</text>
<text x="134" y="405.9" font-size="14.6" text-anchor="start" >Layers</text>
<text x="12.4" y="231.2" font-size="16" text-anchor="start" >(c)</text>
<rect x="333.7" y="223.8" width="204.3" height="152.7" fill="none" stroke="#111" stroke-width="1.5"/>
<path d="M366.1,376.5v3.9M400.3,376.5v3.9M434.5,376.5v3.9M468.7,376.5v3.9M502.9,376.5v3.9M537.1,376.5v3.9M342.2,376.5v2.2M348.22,376.5v2.2M352.49,376.5v2.2M355.8,376.5v2.2M358.51,376.5v2.2M360.8,376.5v2.2M362.79,376.5v2.2M364.54,376.5v2.2M376.4,376.5v2.2M382.42,376.5v2.2M386.69,376.5v2.2M390,376.5v2.2M392.71,376.5v2.2M395,376.5v2.2M396.99,376.5v2.2M398.74,376.5v2.2M410.6,376.5v2.2M416.62,376.5v2.2M420.89,376.5v2.2M424.2,376.5v2.2M426.91,376.5v2.2M429.2,376.5v2.2M431.19,376.5v2.2M432.94,376.5v2.2M444.8,376.5v2.2M450.82,376.5v2.2M455.09,376.5v2.2M458.4,376.5v2.2M461.11,376.5v2.2M463.4,376.5v2.2M465.39,376.5v2.2M467.14,376.5v2.2M479,376.5v2.2M485.02,376.5v2.2M489.29,376.5v2.2M492.6,376.5v2.2M495.31,376.5v2.2M497.6,376.5v2.2M499.59,376.5v2.2M501.34,376.5v2.2M513.2,376.5v2.2M519.22,376.5v2.2M523.49,376.5v2.2M526.8,376.5v2.2M529.51,376.5v2.2M531.8,376.5v2.2M533.79,376.5v2.2M535.54,376.5v2.2" stroke="#111" stroke-width="1.2" fill="none"/>
<path d="M333.7,376.5h3.6M333.7,345.96h3.6M333.7,315.42h3.6M333.7,284.88h3.6M333.7,254.34h3.6M333.7,361.23h2.0M333.7,330.69h2.0M333.7,300.15h2.0M333.7,269.61h2.0M333.7,239.07h2.0" stroke="#111" stroke-width="1.2" fill="none"/>
<text x="357.3" y="393.5" font-size="11" text-anchor="start" >10</text>
<text x="369.4" y="388" font-size="5.8" text-anchor="start" >-8</text>
<text x="391.5" y="393.5" font-size="11" text-anchor="start" >10</text>
<text x="403.6" y="388" font-size="5.8" text-anchor="start" >-7</text>
<text x="425.7" y="393.5" font-size="11" text-anchor="start" >10</text>
<text x="437.8" y="388" font-size="5.8" text-anchor="start" >-6</text>
<text x="459.9" y="393.5" font-size="11" text-anchor="start" >10</text>
<text x="472" y="388" font-size="5.8" text-anchor="start" >-5</text>
<text x="494.1" y="393.5" font-size="11" text-anchor="start" >10</text>
<text x="506.2" y="388" font-size="5.8" text-anchor="start" >-4</text>
<text x="528.3" y="393.5" font-size="11" text-anchor="start" >10</text>
<text x="540.4" y="388" font-size="5.8" text-anchor="start" >-3</text>
<text x="329.7" y="380" font-size="11" text-anchor="end" >0</text>
<text x="329.7" y="349.46" font-size="11" text-anchor="end" >200</text>
<text x="329.7" y="318.92" font-size="11" text-anchor="end" >400</text>
<text x="329.7" y="288.38" font-size="11" text-anchor="end" >600</text>
<text x="329.7" y="257.84" font-size="11" text-anchor="end" >800</text>
<line x1="366.1" y1="359.28" x2="502.9" y2="235.41" stroke="#ff0000" stroke-width="1.6"/>
<rect x="364.4" y="362.13" width="3.4" height="3.4" fill="#000"/>
<rect x="398.6" y="319.68" width="3.4" height="3.4" fill="#000"/>
<rect x="432.8" y="297.08" width="3.4" height="3.4" fill="#000"/>
<rect x="467" y="264.4" width="3.4" height="3.4" fill="#000"/>
<rect x="501.2" y="234.93" width="3.4" height="3.4" fill="#000"/>
<rect x="346.6" y="233.0" width="3.6" height="3.6" fill="#000"/>
<line x1="337.8" y1="249.4" x2="358.6" y2="249.4" stroke="#ff0000" stroke-width="1.6"/>
<text x="360.4" y="237.8" font-size="11.3" text-anchor="start" >Experiment values</text>
<text x="361.2" y="252" font-size="11.3" text-anchor="start" >Fitted curve</text>
<text x="437.5" y="327.9" font-size="11.3" text-anchor="start" >R<tspan font-size="6.6" dy="-4.9">2</tspan><tspan dy="4.9">=0.990</tspan></text>
<text x="0" y="0" font-size="14.6" transform="translate(304,358.6) rotate(-90)">Intensity (a.u.)</text>
<text x="373.5" y="409.2" font-size="14.6" text-anchor="start" >Concentration (M)</text>
<text x="290.3" y="231.6" font-size="16" text-anchor="start" >(d)</text>
</g>
</svg></body></html>
